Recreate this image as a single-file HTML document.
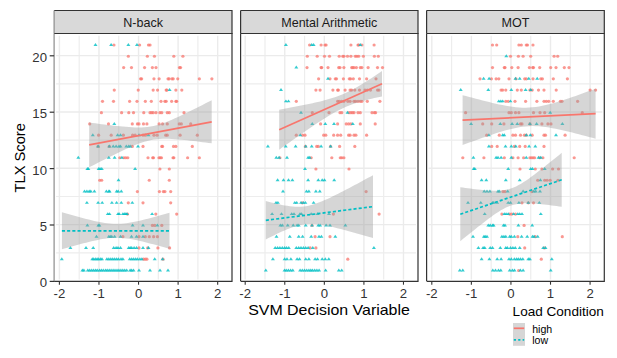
<!DOCTYPE html><html><head><meta charset="utf-8"><style>html,body{margin:0;padding:0;background:#fff;width:617px;height:358px;overflow:hidden;position:relative;font-family:"Liberation Sans",sans-serif}</style></head><body><svg width="617" height="358" viewBox="0 0 617 358" style="position:absolute;left:0;top:0"><rect width="617" height="358" fill="#fff"/><rect x="54.1" y="33.5" width="177.90" height="247.5" fill="#fff"/><line x1="79.19" y1="35.8" x2="79.19" y2="279.5" stroke="#ededed" stroke-width="1.2"/><line x1="118.75" y1="35.8" x2="118.75" y2="279.5" stroke="#ededed" stroke-width="1.2"/><line x1="158.32" y1="35.8" x2="158.32" y2="279.5" stroke="#ededed" stroke-width="1.2"/><line x1="197.90" y1="35.8" x2="197.90" y2="279.5" stroke="#ededed" stroke-width="1.2"/><line x1="56.1" y1="252.82" x2="230.0" y2="252.82" stroke="#ededed" stroke-width="1.2"/><line x1="56.1" y1="196.48" x2="230.0" y2="196.48" stroke="#ededed" stroke-width="1.2"/><line x1="56.1" y1="140.12" x2="230.0" y2="140.12" stroke="#ededed" stroke-width="1.2"/><line x1="56.1" y1="83.78" x2="230.0" y2="83.78" stroke="#ededed" stroke-width="1.2"/><line x1="59.40" y1="35.8" x2="59.40" y2="279.5" stroke="#ebebeb" stroke-width="1.4"/><line x1="98.97" y1="35.8" x2="98.97" y2="279.5" stroke="#ebebeb" stroke-width="1.4"/><line x1="138.54" y1="35.8" x2="138.54" y2="279.5" stroke="#ebebeb" stroke-width="1.4"/><line x1="178.11" y1="35.8" x2="178.11" y2="279.5" stroke="#ebebeb" stroke-width="1.4"/><line x1="217.68" y1="35.8" x2="217.68" y2="279.5" stroke="#ebebeb" stroke-width="1.4"/><line x1="56.1" y1="224.65" x2="230.0" y2="224.65" stroke="#ebebeb" stroke-width="1.4"/><line x1="56.1" y1="168.30" x2="230.0" y2="168.30" stroke="#ebebeb" stroke-width="1.4"/><line x1="56.1" y1="111.95" x2="230.0" y2="111.95" stroke="#ebebeb" stroke-width="1.4"/><line x1="56.1" y1="55.60" x2="230.0" y2="55.60" stroke="#ebebeb" stroke-width="1.4"/><circle cx="113.95" cy="44.98" r="1.6" fill="#F8766D" fill-opacity="0.75"/><circle cx="139.62" cy="44.98" r="1.6" fill="#F8766D" fill-opacity="0.75"/><circle cx="128.35" cy="56.25" r="1.6" fill="#F8766D" fill-opacity="0.75"/><circle cx="123.65" cy="67.53" r="1.6" fill="#F8766D" fill-opacity="0.75"/><circle cx="131.48" cy="67.53" r="1.6" fill="#F8766D" fill-opacity="0.75"/><circle cx="140.56" cy="78.80" r="1.6" fill="#F8766D" fill-opacity="0.75"/><circle cx="141.65" cy="78.80" r="1.6" fill="#F8766D" fill-opacity="0.75"/><circle cx="114.26" cy="90.07" r="1.6" fill="#F8766D" fill-opacity="0.75"/><circle cx="138.21" cy="90.07" r="1.6" fill="#F8766D" fill-opacity="0.75"/><circle cx="148.48" cy="44.98" r="1.6" fill="#F8766D" fill-opacity="0.75"/><circle cx="150.04" cy="44.98" r="1.6" fill="#F8766D" fill-opacity="0.75"/><circle cx="147.38" cy="56.25" r="1.6" fill="#F8766D" fill-opacity="0.75"/><circle cx="154.43" cy="56.25" r="1.6" fill="#F8766D" fill-opacity="0.75"/><circle cx="173.83" cy="56.25" r="1.6" fill="#F8766D" fill-opacity="0.75"/><circle cx="182.91" cy="56.25" r="1.6" fill="#F8766D" fill-opacity="0.75"/><circle cx="144.57" cy="67.53" r="1.6" fill="#F8766D" fill-opacity="0.75"/><circle cx="152.39" cy="67.53" r="1.6" fill="#F8766D" fill-opacity="0.75"/><circle cx="155.99" cy="67.53" r="1.6" fill="#F8766D" fill-opacity="0.75"/><circle cx="179.47" cy="67.53" r="1.6" fill="#F8766D" fill-opacity="0.75"/><circle cx="180.57" cy="67.53" r="1.6" fill="#F8766D" fill-opacity="0.75"/><circle cx="153.96" cy="78.80" r="1.6" fill="#F8766D" fill-opacity="0.75"/><circle cx="159.12" cy="78.80" r="1.6" fill="#F8766D" fill-opacity="0.75"/><circle cx="168.04" cy="78.80" r="1.6" fill="#F8766D" fill-opacity="0.75"/><circle cx="169.14" cy="78.80" r="1.6" fill="#F8766D" fill-opacity="0.75"/><circle cx="171.96" cy="78.80" r="1.6" fill="#F8766D" fill-opacity="0.75"/><circle cx="173.21" cy="78.80" r="1.6" fill="#F8766D" fill-opacity="0.75"/><circle cx="177.75" cy="78.80" r="1.6" fill="#F8766D" fill-opacity="0.75"/><circle cx="199.35" cy="78.80" r="1.6" fill="#F8766D" fill-opacity="0.75"/><circle cx="211.87" cy="78.80" r="1.6" fill="#F8766D" fill-opacity="0.75"/><circle cx="153.17" cy="90.07" r="1.6" fill="#F8766D" fill-opacity="0.75"/><circle cx="157.56" cy="90.07" r="1.6" fill="#F8766D" fill-opacity="0.75"/><circle cx="166.17" cy="90.07" r="1.6" fill="#F8766D" fill-opacity="0.75"/><circle cx="166.95" cy="90.07" r="1.6" fill="#F8766D" fill-opacity="0.75"/><circle cx="175.87" cy="90.07" r="1.6" fill="#F8766D" fill-opacity="0.75"/><circle cx="181.82" cy="90.07" r="1.6" fill="#F8766D" fill-opacity="0.75"/><circle cx="102.5" cy="101.35" r="1.6" fill="#F8766D" fill-opacity="0.75"/><circle cx="113.5" cy="101.35" r="1.6" fill="#F8766D" fill-opacity="0.75"/><circle cx="129.6" cy="101.35" r="1.6" fill="#F8766D" fill-opacity="0.75"/><circle cx="137.0" cy="101.35" r="1.6" fill="#F8766D" fill-opacity="0.75"/><circle cx="101.4" cy="112.63" r="1.6" fill="#F8766D" fill-opacity="0.75"/><circle cx="121.6" cy="112.63" r="1.6" fill="#F8766D" fill-opacity="0.75"/><circle cx="128.8" cy="112.63" r="1.6" fill="#F8766D" fill-opacity="0.75"/><circle cx="133.5" cy="112.63" r="1.6" fill="#F8766D" fill-opacity="0.75"/><circle cx="89.7" cy="123.90" r="1.6" fill="#F8766D" fill-opacity="0.75"/><circle cx="108.5" cy="123.90" r="1.6" fill="#F8766D" fill-opacity="0.75"/><circle cx="132.3" cy="123.90" r="1.6" fill="#F8766D" fill-opacity="0.75"/><circle cx="137.4" cy="123.90" r="1.6" fill="#F8766D" fill-opacity="0.75"/><circle cx="139.0" cy="123.90" r="1.6" fill="#F8766D" fill-opacity="0.75"/><circle cx="98.6" cy="135.17" r="1.6" fill="#F8766D" fill-opacity="0.75"/><circle cx="111.2" cy="135.17" r="1.6" fill="#F8766D" fill-opacity="0.75"/><circle cx="123.4" cy="135.17" r="1.6" fill="#F8766D" fill-opacity="0.75"/><circle cx="132.6" cy="135.17" r="1.6" fill="#F8766D" fill-opacity="0.75"/><circle cx="135.1" cy="135.17" r="1.6" fill="#F8766D" fill-opacity="0.75"/><circle cx="98.1" cy="146.45" r="1.6" fill="#F8766D" fill-opacity="0.75"/><circle cx="109.3" cy="146.45" r="1.6" fill="#F8766D" fill-opacity="0.75"/><circle cx="132.3" cy="146.45" r="1.6" fill="#F8766D" fill-opacity="0.75"/><circle cx="145.35" cy="101.35" r="1.6" fill="#F8766D" fill-opacity="0.75"/><circle cx="151.3" cy="101.35" r="1.6" fill="#F8766D" fill-opacity="0.75"/><circle cx="161.0" cy="101.35" r="1.6" fill="#F8766D" fill-opacity="0.75"/><circle cx="164.91" cy="101.35" r="1.6" fill="#F8766D" fill-opacity="0.75"/><circle cx="166.17" cy="101.35" r="1.6" fill="#F8766D" fill-opacity="0.75"/><circle cx="171.64" cy="101.35" r="1.6" fill="#F8766D" fill-opacity="0.75"/><circle cx="175.87" cy="101.35" r="1.6" fill="#F8766D" fill-opacity="0.75"/><circle cx="176.65" cy="101.35" r="1.6" fill="#F8766D" fill-opacity="0.75"/><circle cx="143.78" cy="112.63" r="1.6" fill="#F8766D" fill-opacity="0.75"/><circle cx="150.04" cy="112.63" r="1.6" fill="#F8766D" fill-opacity="0.75"/><circle cx="151.61" cy="112.63" r="1.6" fill="#F8766D" fill-opacity="0.75"/><circle cx="153.17" cy="112.63" r="1.6" fill="#F8766D" fill-opacity="0.75"/><circle cx="155.99" cy="112.63" r="1.6" fill="#F8766D" fill-opacity="0.75"/><circle cx="159.9" cy="112.63" r="1.6" fill="#F8766D" fill-opacity="0.75"/><circle cx="161.78" cy="112.63" r="1.6" fill="#F8766D" fill-opacity="0.75"/><circle cx="167.26" cy="112.63" r="1.6" fill="#F8766D" fill-opacity="0.75"/><circle cx="169.3" cy="112.63" r="1.6" fill="#F8766D" fill-opacity="0.75"/><circle cx="184.01" cy="112.63" r="1.6" fill="#F8766D" fill-opacity="0.75"/><circle cx="143.47" cy="123.90" r="1.6" fill="#F8766D" fill-opacity="0.75"/><circle cx="146.91" cy="123.90" r="1.6" fill="#F8766D" fill-opacity="0.75"/><circle cx="159.12" cy="123.90" r="1.6" fill="#F8766D" fill-opacity="0.75"/><circle cx="162.57" cy="123.90" r="1.6" fill="#F8766D" fill-opacity="0.75"/><circle cx="167.26" cy="123.90" r="1.6" fill="#F8766D" fill-opacity="0.75"/><circle cx="179.31" cy="123.90" r="1.6" fill="#F8766D" fill-opacity="0.75"/><circle cx="181.35" cy="123.90" r="1.6" fill="#F8766D" fill-opacity="0.75"/><circle cx="190.74" cy="123.90" r="1.6" fill="#F8766D" fill-opacity="0.75"/><circle cx="143.0" cy="135.17" r="1.6" fill="#F8766D" fill-opacity="0.75"/><circle cx="145.35" cy="135.17" r="1.6" fill="#F8766D" fill-opacity="0.75"/><circle cx="153.96" cy="135.17" r="1.6" fill="#F8766D" fill-opacity="0.75"/><circle cx="157.09" cy="135.17" r="1.6" fill="#F8766D" fill-opacity="0.75"/><circle cx="165.7" cy="135.17" r="1.6" fill="#F8766D" fill-opacity="0.75"/><circle cx="167.26" cy="135.17" r="1.6" fill="#F8766D" fill-opacity="0.75"/><circle cx="180.1" cy="135.17" r="1.6" fill="#F8766D" fill-opacity="0.75"/><circle cx="197.31" cy="135.17" r="1.6" fill="#F8766D" fill-opacity="0.75"/><circle cx="143.0" cy="146.45" r="1.6" fill="#F8766D" fill-opacity="0.75"/><circle cx="161.78" cy="146.45" r="1.6" fill="#F8766D" fill-opacity="0.75"/><circle cx="162.57" cy="146.45" r="1.6" fill="#F8766D" fill-opacity="0.75"/><circle cx="173.52" cy="146.45" r="1.6" fill="#F8766D" fill-opacity="0.75"/><circle cx="175.87" cy="146.45" r="1.6" fill="#F8766D" fill-opacity="0.75"/><circle cx="192.3" cy="146.45" r="1.6" fill="#F8766D" fill-opacity="0.75"/><circle cx="119.8" cy="157.73" r="1.6" fill="#F8766D" fill-opacity="0.75"/><circle cx="123.9" cy="157.73" r="1.6" fill="#F8766D" fill-opacity="0.75"/><circle cx="125.8" cy="157.73" r="1.6" fill="#F8766D" fill-opacity="0.75"/><circle cx="127.8" cy="157.73" r="1.6" fill="#F8766D" fill-opacity="0.75"/><circle cx="99.7" cy="180.27" r="1.6" fill="#F8766D" fill-opacity="0.75"/><circle cx="101.7" cy="180.27" r="1.6" fill="#F8766D" fill-opacity="0.75"/><circle cx="137.4" cy="191.55" r="1.6" fill="#F8766D" fill-opacity="0.75"/><circle cx="128.3" cy="202.83" r="1.6" fill="#F8766D" fill-opacity="0.75"/><circle cx="143.0" cy="202.83" r="1.6" fill="#F8766D" fill-opacity="0.75"/><circle cx="148.01" cy="157.73" r="1.6" fill="#F8766D" fill-opacity="0.75"/><circle cx="152.7" cy="157.73" r="1.6" fill="#F8766D" fill-opacity="0.75"/><circle cx="153.49" cy="157.73" r="1.6" fill="#F8766D" fill-opacity="0.75"/><circle cx="158.97" cy="157.73" r="1.6" fill="#F8766D" fill-opacity="0.75"/><circle cx="160.22" cy="157.73" r="1.6" fill="#F8766D" fill-opacity="0.75"/><circle cx="161.47" cy="157.73" r="1.6" fill="#F8766D" fill-opacity="0.75"/><circle cx="173.05" cy="157.73" r="1.6" fill="#F8766D" fill-opacity="0.75"/><circle cx="173.83" cy="157.73" r="1.6" fill="#F8766D" fill-opacity="0.75"/><circle cx="187.61" cy="157.73" r="1.6" fill="#F8766D" fill-opacity="0.75"/><circle cx="199.35" cy="157.73" r="1.6" fill="#F8766D" fill-opacity="0.75"/><circle cx="159.9" cy="169.00" r="1.6" fill="#F8766D" fill-opacity="0.75"/><circle cx="169.3" cy="169.00" r="1.6" fill="#F8766D" fill-opacity="0.75"/><circle cx="149.26" cy="180.27" r="1.6" fill="#F8766D" fill-opacity="0.75"/><circle cx="169.3" cy="180.27" r="1.6" fill="#F8766D" fill-opacity="0.75"/><circle cx="159.43" cy="191.55" r="1.6" fill="#F8766D" fill-opacity="0.75"/><circle cx="163.35" cy="191.55" r="1.6" fill="#F8766D" fill-opacity="0.75"/><circle cx="164.91" cy="191.55" r="1.6" fill="#F8766D" fill-opacity="0.75"/><circle cx="170.7" cy="191.55" r="1.6" fill="#F8766D" fill-opacity="0.75"/><circle cx="170.7" cy="202.83" r="1.6" fill="#F8766D" fill-opacity="0.75"/><circle cx="127.5" cy="214.10" r="1.6" fill="#F8766D" fill-opacity="0.75"/><circle cx="155.8" cy="214.10" r="1.6" fill="#F8766D" fill-opacity="0.75"/><circle cx="176.7" cy="214.10" r="1.6" fill="#F8766D" fill-opacity="0.75"/><circle cx="152.4" cy="225.38" r="1.6" fill="#F8766D" fill-opacity="0.75"/><circle cx="154.7" cy="225.38" r="1.6" fill="#F8766D" fill-opacity="0.75"/><circle cx="161.8" cy="225.38" r="1.6" fill="#F8766D" fill-opacity="0.75"/><circle cx="122.9" cy="236.65" r="1.6" fill="#F8766D" fill-opacity="0.75"/><circle cx="139.0" cy="236.65" r="1.6" fill="#F8766D" fill-opacity="0.75"/><circle cx="145.3" cy="236.65" r="1.6" fill="#F8766D" fill-opacity="0.75"/><circle cx="149.3" cy="236.65" r="1.6" fill="#F8766D" fill-opacity="0.75"/><circle cx="153.6" cy="236.65" r="1.6" fill="#F8766D" fill-opacity="0.75"/><circle cx="157.4" cy="236.65" r="1.6" fill="#F8766D" fill-opacity="0.75"/><circle cx="139.0" cy="247.93" r="1.6" fill="#F8766D" fill-opacity="0.75"/><circle cx="147.7" cy="247.93" r="1.6" fill="#F8766D" fill-opacity="0.75"/><circle cx="157.9" cy="247.93" r="1.6" fill="#F8766D" fill-opacity="0.75"/><circle cx="169.6" cy="247.93" r="1.6" fill="#F8766D" fill-opacity="0.75"/><circle cx="143.5" cy="259.20" r="1.6" fill="#F8766D" fill-opacity="0.75"/><circle cx="145.3" cy="259.20" r="1.6" fill="#F8766D" fill-opacity="0.75"/><circle cx="146.9" cy="259.20" r="1.6" fill="#F8766D" fill-opacity="0.75"/><circle cx="163.0" cy="259.20" r="1.6" fill="#F8766D" fill-opacity="0.75"/><path d="M93.48,45.98L97.48,45.98L95.48,43.03Z" fill="#00BFC4" fill-opacity="0.8"/><path d="M109.13,45.98L113.13,45.98L111.13,43.03Z" fill="#00BFC4" fill-opacity="0.8"/><path d="M126.35,45.98L130.35,45.98L128.35,43.03Z" fill="#00BFC4" fill-opacity="0.8"/><path d="M134.96,45.98L138.96,45.98L136.96,43.03Z" fill="#00BFC4" fill-opacity="0.8"/><path d="M167.61,91.07L171.61,91.07L169.61,88.12Z" fill="#00BFC4" fill-opacity="0.8"/><path d="M112.30,124.90L116.30,124.90L114.30,121.95Z" fill="#00BFC4" fill-opacity="0.8"/><path d="M90.80,136.17L94.80,136.17L92.80,133.22Z" fill="#00BFC4" fill-opacity="0.8"/><path d="M115.60,136.17L119.60,136.17L117.60,133.22Z" fill="#00BFC4" fill-opacity="0.8"/><path d="M118.50,136.17L122.50,136.17L120.50,133.22Z" fill="#00BFC4" fill-opacity="0.8"/><path d="M137.00,136.17L141.00,136.17L139.00,133.22Z" fill="#00BFC4" fill-opacity="0.8"/><path d="M96.10,147.45L100.10,147.45L98.10,144.50Z" fill="#00BFC4" fill-opacity="0.8"/><path d="M107.30,147.45L111.30,147.45L109.30,144.50Z" fill="#00BFC4" fill-opacity="0.8"/><path d="M111.20,147.45L115.20,147.45L113.20,144.50Z" fill="#00BFC4" fill-opacity="0.8"/><path d="M114.10,147.45L118.10,147.45L116.10,144.50Z" fill="#00BFC4" fill-opacity="0.8"/><path d="M117.00,147.45L121.00,147.45L119.00,144.50Z" fill="#00BFC4" fill-opacity="0.8"/><path d="M118.50,147.45L122.50,147.45L120.50,144.50Z" fill="#00BFC4" fill-opacity="0.8"/><path d="M124.30,147.45L128.30,147.45L126.30,144.50Z" fill="#00BFC4" fill-opacity="0.8"/><path d="M126.70,147.45L130.70,147.45L128.70,144.50Z" fill="#00BFC4" fill-opacity="0.8"/><path d="M128.20,147.45L132.20,147.45L130.20,144.50Z" fill="#00BFC4" fill-opacity="0.8"/><path d="M136.00,147.45L140.00,147.45L138.00,144.50Z" fill="#00BFC4" fill-opacity="0.8"/><path d="M146.48,136.17L150.48,136.17L148.48,133.22Z" fill="#00BFC4" fill-opacity="0.8"/><path d="M76.30,158.73L80.30,158.73L78.30,155.78Z" fill="#00BFC4" fill-opacity="0.8"/><path d="M106.80,158.73L110.80,158.73L108.80,155.78Z" fill="#00BFC4" fill-opacity="0.8"/><path d="M112.60,158.73L116.60,158.73L114.60,155.78Z" fill="#00BFC4" fill-opacity="0.8"/><path d="M119.90,158.73L123.90,158.73L121.90,155.78Z" fill="#00BFC4" fill-opacity="0.8"/><path d="M85.40,170.00L89.40,170.00L87.40,167.05Z" fill="#00BFC4" fill-opacity="0.8"/><path d="M86.40,170.00L90.40,170.00L88.40,167.05Z" fill="#00BFC4" fill-opacity="0.8"/><path d="M96.60,170.00L100.60,170.00L98.60,167.05Z" fill="#00BFC4" fill-opacity="0.8"/><path d="M98.00,170.00L102.00,170.00L100.00,167.05Z" fill="#00BFC4" fill-opacity="0.8"/><path d="M99.80,170.00L103.80,170.00L101.80,167.05Z" fill="#00BFC4" fill-opacity="0.8"/><path d="M133.10,170.00L137.10,170.00L135.10,167.05Z" fill="#00BFC4" fill-opacity="0.8"/><path d="M116.50,181.27L120.50,181.27L118.50,178.32Z" fill="#00BFC4" fill-opacity="0.8"/><path d="M82.50,192.55L86.50,192.55L84.50,189.60Z" fill="#00BFC4" fill-opacity="0.8"/><path d="M84.90,192.55L88.90,192.55L86.90,189.60Z" fill="#00BFC4" fill-opacity="0.8"/><path d="M87.20,192.55L91.20,192.55L89.20,189.60Z" fill="#00BFC4" fill-opacity="0.8"/><path d="M88.80,192.55L92.80,192.55L90.80,189.60Z" fill="#00BFC4" fill-opacity="0.8"/><path d="M92.40,192.55L96.40,192.55L94.40,189.60Z" fill="#00BFC4" fill-opacity="0.8"/><path d="M104.40,192.55L108.40,192.55L106.40,189.60Z" fill="#00BFC4" fill-opacity="0.8"/><path d="M106.80,192.55L110.80,192.55L108.80,189.60Z" fill="#00BFC4" fill-opacity="0.8"/><path d="M107.60,192.55L111.60,192.55L109.60,189.60Z" fill="#00BFC4" fill-opacity="0.8"/><path d="M114.60,192.55L118.60,192.55L116.60,189.60Z" fill="#00BFC4" fill-opacity="0.8"/><path d="M116.20,192.55L120.20,192.55L118.20,189.60Z" fill="#00BFC4" fill-opacity="0.8"/><path d="M119.30,192.55L123.30,192.55L121.30,189.60Z" fill="#00BFC4" fill-opacity="0.8"/><path d="M84.90,203.83L88.90,203.83L86.90,200.88Z" fill="#00BFC4" fill-opacity="0.8"/><path d="M96.10,203.83L100.10,203.83L98.10,200.88Z" fill="#00BFC4" fill-opacity="0.8"/><path d="M100.20,203.83L104.20,203.83L102.20,200.88Z" fill="#00BFC4" fill-opacity="0.8"/><path d="M109.90,203.83L113.90,203.83L111.90,200.88Z" fill="#00BFC4" fill-opacity="0.8"/><path d="M114.60,203.83L118.60,203.83L116.60,200.88Z" fill="#00BFC4" fill-opacity="0.8"/><path d="M119.30,203.83L123.30,203.83L121.30,200.88Z" fill="#00BFC4" fill-opacity="0.8"/><path d="M130.30,203.83L134.30,203.83L132.30,200.88Z" fill="#00BFC4" fill-opacity="0.8"/><path d="M105.80,215.10L109.80,215.10L107.80,212.15Z" fill="#00BFC4" fill-opacity="0.8"/><path d="M107.50,215.10L111.50,215.10L109.50,212.15Z" fill="#00BFC4" fill-opacity="0.8"/><path d="M116.00,215.10L120.00,215.10L118.00,212.15Z" fill="#00BFC4" fill-opacity="0.8"/><path d="M117.20,215.10L121.20,215.10L119.20,212.15Z" fill="#00BFC4" fill-opacity="0.8"/><path d="M120.90,215.10L124.90,215.10L122.90,212.15Z" fill="#00BFC4" fill-opacity="0.8"/><path d="M122.40,215.10L126.40,215.10L124.40,212.15Z" fill="#00BFC4" fill-opacity="0.8"/><path d="M123.80,215.10L127.80,215.10L125.80,212.15Z" fill="#00BFC4" fill-opacity="0.8"/><path d="M125.00,215.10L129.00,215.10L127.00,212.15Z" fill="#00BFC4" fill-opacity="0.8"/><path d="M150.10,215.10L154.10,215.10L152.10,212.15Z" fill="#00BFC4" fill-opacity="0.8"/><path d="M85.40,226.38L89.40,226.38L87.40,223.43Z" fill="#00BFC4" fill-opacity="0.8"/><path d="M96.40,226.38L100.40,226.38L98.40,223.43Z" fill="#00BFC4" fill-opacity="0.8"/><path d="M97.40,226.38L101.40,226.38L99.40,223.43Z" fill="#00BFC4" fill-opacity="0.8"/><path d="M130.60,226.38L134.60,226.38L132.60,223.43Z" fill="#00BFC4" fill-opacity="0.8"/><path d="M141.00,226.38L145.00,226.38L143.00,223.43Z" fill="#00BFC4" fill-opacity="0.8"/><path d="M155.40,226.38L159.40,226.38L157.40,223.43Z" fill="#00BFC4" fill-opacity="0.8"/><path d="M94.50,237.65L98.50,237.65L96.50,234.70Z" fill="#00BFC4" fill-opacity="0.8"/><path d="M106.80,237.65L110.80,237.65L108.80,234.70Z" fill="#00BFC4" fill-opacity="0.8"/><path d="M108.30,237.65L112.30,237.65L110.30,234.70Z" fill="#00BFC4" fill-opacity="0.8"/><path d="M109.70,237.65L113.70,237.65L111.70,234.70Z" fill="#00BFC4" fill-opacity="0.8"/><path d="M112.60,237.65L116.60,237.65L114.60,234.70Z" fill="#00BFC4" fill-opacity="0.8"/><path d="M118.50,237.65L122.50,237.65L120.50,234.70Z" fill="#00BFC4" fill-opacity="0.8"/><path d="M129.50,237.65L133.50,237.65L131.50,234.70Z" fill="#00BFC4" fill-opacity="0.8"/><path d="M134.50,237.65L138.50,237.65L136.50,234.70Z" fill="#00BFC4" fill-opacity="0.8"/><path d="M141.00,237.65L145.00,237.65L143.00,234.70Z" fill="#00BFC4" fill-opacity="0.8"/><path d="M68.40,248.93L72.40,248.93L70.40,245.98Z" fill="#00BFC4" fill-opacity="0.8"/><path d="M84.00,248.93L88.00,248.93L86.00,245.98Z" fill="#00BFC4" fill-opacity="0.8"/><path d="M91.20,248.93L95.20,248.93L93.20,245.98Z" fill="#00BFC4" fill-opacity="0.8"/><path d="M111.70,248.93L115.70,248.93L113.70,245.98Z" fill="#00BFC4" fill-opacity="0.8"/><path d="M114.10,248.93L118.10,248.93L116.10,245.98Z" fill="#00BFC4" fill-opacity="0.8"/><path d="M116.00,248.93L120.00,248.93L118.00,245.98Z" fill="#00BFC4" fill-opacity="0.8"/><path d="M118.50,248.93L122.50,248.93L120.50,245.98Z" fill="#00BFC4" fill-opacity="0.8"/><path d="M126.70,248.93L130.70,248.93L128.70,245.98Z" fill="#00BFC4" fill-opacity="0.8"/><path d="M128.20,248.93L132.20,248.93L130.20,245.98Z" fill="#00BFC4" fill-opacity="0.8"/><path d="M129.70,248.93L133.70,248.93L131.70,245.98Z" fill="#00BFC4" fill-opacity="0.8"/><path d="M132.10,248.93L136.10,248.93L134.10,245.98Z" fill="#00BFC4" fill-opacity="0.8"/><path d="M134.50,248.93L138.50,248.93L136.50,245.98Z" fill="#00BFC4" fill-opacity="0.8"/><path d="M141.00,248.93L145.00,248.93L143.00,245.98Z" fill="#00BFC4" fill-opacity="0.8"/><path d="M146.50,248.93L150.50,248.93L148.50,245.98Z" fill="#00BFC4" fill-opacity="0.8"/><path d="M59.80,260.20L63.80,260.20L61.80,257.25Z" fill="#00BFC4" fill-opacity="0.8"/><path d="M90.30,260.20L94.30,260.20L92.30,257.25Z" fill="#00BFC4" fill-opacity="0.8"/><path d="M91.70,260.20L95.70,260.20L93.70,257.25Z" fill="#00BFC4" fill-opacity="0.8"/><path d="M93.50,260.20L97.50,260.20L95.50,257.25Z" fill="#00BFC4" fill-opacity="0.8"/><path d="M95.10,260.20L99.10,260.20L97.10,257.25Z" fill="#00BFC4" fill-opacity="0.8"/><path d="M96.60,260.20L100.60,260.20L98.60,257.25Z" fill="#00BFC4" fill-opacity="0.8"/><path d="M98.50,260.20L102.50,260.20L100.50,257.25Z" fill="#00BFC4" fill-opacity="0.8"/><path d="M100.00,260.20L104.00,260.20L102.00,257.25Z" fill="#00BFC4" fill-opacity="0.8"/><path d="M104.90,260.20L108.90,260.20L106.90,257.25Z" fill="#00BFC4" fill-opacity="0.8"/><path d="M106.80,260.20L110.80,260.20L108.80,257.25Z" fill="#00BFC4" fill-opacity="0.8"/><path d="M108.80,260.20L112.80,260.20L110.80,257.25Z" fill="#00BFC4" fill-opacity="0.8"/><path d="M110.70,260.20L114.70,260.20L112.70,257.25Z" fill="#00BFC4" fill-opacity="0.8"/><path d="M112.60,260.20L116.60,260.20L114.60,257.25Z" fill="#00BFC4" fill-opacity="0.8"/><path d="M114.60,260.20L118.60,260.20L116.60,257.25Z" fill="#00BFC4" fill-opacity="0.8"/><path d="M116.50,260.20L120.50,260.20L118.50,257.25Z" fill="#00BFC4" fill-opacity="0.8"/><path d="M119.00,260.20L123.00,260.20L121.00,257.25Z" fill="#00BFC4" fill-opacity="0.8"/><path d="M120.90,260.20L124.90,260.20L122.90,257.25Z" fill="#00BFC4" fill-opacity="0.8"/><path d="M127.70,260.20L131.70,260.20L129.70,257.25Z" fill="#00BFC4" fill-opacity="0.8"/><path d="M129.70,260.20L133.70,260.20L131.70,257.25Z" fill="#00BFC4" fill-opacity="0.8"/><path d="M131.60,260.20L135.60,260.20L133.60,257.25Z" fill="#00BFC4" fill-opacity="0.8"/><path d="M133.60,260.20L137.60,260.20L135.60,257.25Z" fill="#00BFC4" fill-opacity="0.8"/><path d="M135.50,260.20L139.50,260.20L137.50,257.25Z" fill="#00BFC4" fill-opacity="0.8"/><path d="M137.90,260.20L141.90,260.20L139.90,257.25Z" fill="#00BFC4" fill-opacity="0.8"/><path d="M139.90,260.20L143.90,260.20L141.90,257.25Z" fill="#00BFC4" fill-opacity="0.8"/><path d="M152.70,260.20L156.70,260.20L154.70,257.25Z" fill="#00BFC4" fill-opacity="0.8"/><path d="M160.60,260.20L164.60,260.20L162.60,257.25Z" fill="#00BFC4" fill-opacity="0.8"/><path d="M80.40,271.48L84.40,271.48L82.40,268.53Z" fill="#00BFC4" fill-opacity="0.8"/><path d="M81.90,271.48L85.90,271.48L83.90,268.53Z" fill="#00BFC4" fill-opacity="0.8"/><path d="M85.80,271.48L89.80,271.48L87.80,268.53Z" fill="#00BFC4" fill-opacity="0.8"/><path d="M87.70,271.48L91.70,271.48L89.70,268.53Z" fill="#00BFC4" fill-opacity="0.8"/><path d="M89.70,271.48L93.70,271.48L91.70,268.53Z" fill="#00BFC4" fill-opacity="0.8"/><path d="M91.60,271.48L95.60,271.48L93.60,268.53Z" fill="#00BFC4" fill-opacity="0.8"/><path d="M93.60,271.48L97.60,271.48L95.60,268.53Z" fill="#00BFC4" fill-opacity="0.8"/><path d="M95.30,271.48L99.30,271.48L97.30,268.53Z" fill="#00BFC4" fill-opacity="0.8"/><path d="M97.50,271.48L101.50,271.48L99.50,268.53Z" fill="#00BFC4" fill-opacity="0.8"/><path d="M99.40,271.48L103.40,271.48L101.40,268.53Z" fill="#00BFC4" fill-opacity="0.8"/><path d="M101.30,271.48L105.30,271.48L103.30,268.53Z" fill="#00BFC4" fill-opacity="0.8"/><path d="M103.50,271.48L107.50,271.48L105.50,268.53Z" fill="#00BFC4" fill-opacity="0.8"/><path d="M105.20,271.48L109.20,271.48L107.20,268.53Z" fill="#00BFC4" fill-opacity="0.8"/><path d="M107.20,271.48L111.20,271.48L109.20,268.53Z" fill="#00BFC4" fill-opacity="0.8"/><path d="M109.10,271.48L113.10,271.48L111.10,268.53Z" fill="#00BFC4" fill-opacity="0.8"/><path d="M111.10,271.48L115.10,271.48L113.10,268.53Z" fill="#00BFC4" fill-opacity="0.8"/><path d="M113.00,271.48L117.00,271.48L115.00,268.53Z" fill="#00BFC4" fill-opacity="0.8"/><path d="M115.00,271.48L119.00,271.48L117.00,268.53Z" fill="#00BFC4" fill-opacity="0.8"/><path d="M116.90,271.48L120.90,271.48L118.90,268.53Z" fill="#00BFC4" fill-opacity="0.8"/><path d="M118.90,271.48L122.90,271.48L120.90,268.53Z" fill="#00BFC4" fill-opacity="0.8"/><path d="M120.80,271.48L124.80,271.48L122.80,268.53Z" fill="#00BFC4" fill-opacity="0.8"/><path d="M122.70,271.48L126.70,271.48L124.70,268.53Z" fill="#00BFC4" fill-opacity="0.8"/><path d="M124.70,271.48L128.70,271.48L126.70,268.53Z" fill="#00BFC4" fill-opacity="0.8"/><path d="M128.10,271.48L132.10,271.48L130.10,268.53Z" fill="#00BFC4" fill-opacity="0.8"/><path d="M129.60,271.48L133.60,271.48L131.60,268.53Z" fill="#00BFC4" fill-opacity="0.8"/><path d="M131.50,271.48L135.50,271.48L133.50,268.53Z" fill="#00BFC4" fill-opacity="0.8"/><path d="M137.00,271.48L141.00,271.48L139.00,268.53Z" fill="#00BFC4" fill-opacity="0.8"/><path d="M148.00,271.48L152.00,271.48L150.00,268.53Z" fill="#00BFC4" fill-opacity="0.8"/><path d="M158.00,271.48L162.00,271.48L160.00,268.53Z" fill="#00BFC4" fill-opacity="0.8"/><path d="M166.00,271.48L170.00,271.48L168.00,268.53Z" fill="#00BFC4" fill-opacity="0.8"/><path d="M89.20,122.53 L92.26,122.94 L95.33,123.35 L98.39,123.76 L101.45,124.15 L104.51,124.54 L107.58,124.92 L110.64,125.29 L113.70,125.65 L116.76,125.98 L119.82,126.30 L122.89,126.60 L125.95,126.86 L129.01,127.09 L132.07,127.27 L135.14,127.40 L138.20,127.45 L141.26,127.41 L144.32,127.25 L147.39,126.97 L150.45,126.54 L153.51,125.94 L156.57,125.19 L159.64,124.30 L162.70,123.27 L165.76,122.14 L168.82,120.92 L171.89,119.63 L174.95,118.29 L178.01,116.89 L181.07,115.47 L184.14,114.01 L187.20,112.54 L190.26,111.04 L193.32,109.53 L196.39,108.00 L199.45,106.46 L202.51,104.92 L205.57,103.37 L208.64,101.81 L211.70,100.24 L211.70,143.36 L208.64,142.95 L205.57,142.54 L202.51,142.15 L199.45,141.76 L196.39,141.37 L193.32,141.00 L190.26,140.65 L187.20,140.30 L184.14,139.98 L181.07,139.68 L178.01,139.41 L174.95,139.17 L171.89,138.98 L168.82,138.85 L165.76,138.78 L162.70,138.81 L159.64,138.94 L156.57,139.20 L153.51,139.60 L150.45,140.16 L147.39,140.88 L144.32,141.76 L141.26,142.76 L138.20,143.87 L135.14,145.08 L132.07,146.36 L129.01,147.69 L125.95,149.08 L122.89,150.50 L119.82,151.95 L116.76,153.42 L113.70,154.91 L110.64,156.42 L107.58,157.95 L104.51,159.48 L101.45,161.03 L98.39,162.58 L95.33,164.14 L92.26,165.70 L89.20,167.27Z" fill="#999" fill-opacity="0.4"/><path d="M61.90,212.23 L64.59,213.01 L67.28,213.79 L69.97,214.56 L72.66,215.32 L75.35,216.07 L78.04,216.81 L80.73,217.54 L83.42,218.25 L86.11,218.94 L88.80,219.61 L91.49,220.26 L94.18,220.88 L96.87,221.46 L99.56,222.00 L102.25,222.48 L104.94,222.91 L107.63,223.26 L110.32,223.53 L113.01,223.71 L115.70,223.80 L118.39,223.77 L121.08,223.65 L123.77,223.43 L126.46,223.13 L129.15,222.75 L131.84,222.29 L134.53,221.79 L137.22,221.23 L139.91,220.63 L142.60,220.00 L145.29,219.34 L147.98,218.66 L150.67,217.96 L153.36,217.24 L156.05,216.51 L158.74,215.77 L161.43,215.01 L164.12,214.25 L166.81,213.48 L169.50,212.70 L169.50,248.90 L166.81,248.12 L164.12,247.35 L161.43,246.59 L158.74,245.83 L156.05,245.09 L153.36,244.36 L150.67,243.64 L147.98,242.94 L145.29,242.26 L142.60,241.60 L139.91,240.97 L137.22,240.37 L134.53,239.81 L131.84,239.31 L129.15,238.85 L126.46,238.47 L123.77,238.17 L121.08,237.95 L118.39,237.83 L115.70,237.80 L113.01,237.89 L110.32,238.07 L107.63,238.34 L104.94,238.69 L102.25,239.12 L99.56,239.60 L96.87,240.14 L94.18,240.72 L91.49,241.34 L88.80,241.99 L86.11,242.66 L83.42,243.35 L80.73,244.06 L78.04,244.79 L75.35,245.53 L72.66,246.28 L69.97,247.04 L67.28,247.81 L64.59,248.59 L61.90,249.37Z" fill="#999" fill-opacity="0.4"/><line x1="89.2" y1="144.9" x2="211.7" y2="121.8" stroke="#F8766D" stroke-width="1.7"/><line x1="61.9" y1="230.8" x2="169.5" y2="230.8" stroke="#00BFC4" stroke-width="1.7" stroke-dasharray="3.1 2.1"/><path d="M54.1,33.5 H232.0 V281.4 H54.1" fill="none" stroke="#333" stroke-width="1.2"/><line x1="54.1" y1="33.5" x2="54.1" y2="281" stroke="#8c8c8c" stroke-width="1.2"/><rect x="54.1" y="10.5" width="177.90" height="23.0" fill="#d9d9d9"/><path d="M54.1,10.5 H232.0 V33.5 H54.1" fill="none" stroke="#333" stroke-width="1.2"/><line x1="54.1" y1="10.5" x2="54.1" y2="33.5" stroke="#8c8c8c" stroke-width="1.2"/><text transform="translate(143.05,26.60) scale(1.055,1)" font-family="Liberation Sans, sans-serif" font-size="11.9" fill="#1a1a1a" text-anchor="middle">N-back</text><line x1="59.40" y1="281.4" x2="59.40" y2="284.7" stroke="#333" stroke-width="1.1"/><text transform="translate(59.40,297.60) scale(1.08,1)" font-family="Liberation Sans, sans-serif" font-size="12.2" fill="#333" text-anchor="middle">-2</text><line x1="98.97" y1="281.4" x2="98.97" y2="284.7" stroke="#333" stroke-width="1.1"/><text transform="translate(98.97,297.60) scale(1.08,1)" font-family="Liberation Sans, sans-serif" font-size="12.2" fill="#333" text-anchor="middle">-1</text><line x1="138.54" y1="281.4" x2="138.54" y2="284.7" stroke="#333" stroke-width="1.1"/><text transform="translate(138.54,297.60) scale(1.08,1)" font-family="Liberation Sans, sans-serif" font-size="12.2" fill="#333" text-anchor="middle">0</text><line x1="178.11" y1="281.4" x2="178.11" y2="284.7" stroke="#333" stroke-width="1.1"/><text transform="translate(178.11,297.60) scale(1.08,1)" font-family="Liberation Sans, sans-serif" font-size="12.2" fill="#333" text-anchor="middle">1</text><line x1="217.68" y1="281.4" x2="217.68" y2="284.7" stroke="#333" stroke-width="1.1"/><text transform="translate(217.68,297.60) scale(1.08,1)" font-family="Liberation Sans, sans-serif" font-size="12.2" fill="#333" text-anchor="middle">2</text><rect x="240.6" y="33.5" width="177.40" height="247.5" fill="#fff"/><line x1="264.99" y1="35.8" x2="264.99" y2="279.5" stroke="#ededed" stroke-width="1.2"/><line x1="304.56" y1="35.8" x2="304.56" y2="279.5" stroke="#ededed" stroke-width="1.2"/><line x1="344.12" y1="35.8" x2="344.12" y2="279.5" stroke="#ededed" stroke-width="1.2"/><line x1="383.69" y1="35.8" x2="383.69" y2="279.5" stroke="#ededed" stroke-width="1.2"/><line x1="242.6" y1="252.82" x2="416.0" y2="252.82" stroke="#ededed" stroke-width="1.2"/><line x1="242.6" y1="196.48" x2="416.0" y2="196.48" stroke="#ededed" stroke-width="1.2"/><line x1="242.6" y1="140.12" x2="416.0" y2="140.12" stroke="#ededed" stroke-width="1.2"/><line x1="242.6" y1="83.78" x2="416.0" y2="83.78" stroke="#ededed" stroke-width="1.2"/><line x1="245.20" y1="35.8" x2="245.20" y2="279.5" stroke="#ebebeb" stroke-width="1.4"/><line x1="284.77" y1="35.8" x2="284.77" y2="279.5" stroke="#ebebeb" stroke-width="1.4"/><line x1="324.34" y1="35.8" x2="324.34" y2="279.5" stroke="#ebebeb" stroke-width="1.4"/><line x1="363.91" y1="35.8" x2="363.91" y2="279.5" stroke="#ebebeb" stroke-width="1.4"/><line x1="403.48" y1="35.8" x2="403.48" y2="279.5" stroke="#ebebeb" stroke-width="1.4"/><line x1="242.6" y1="224.65" x2="416.0" y2="224.65" stroke="#ebebeb" stroke-width="1.4"/><line x1="242.6" y1="168.30" x2="416.0" y2="168.30" stroke="#ebebeb" stroke-width="1.4"/><line x1="242.6" y1="111.95" x2="416.0" y2="111.95" stroke="#ebebeb" stroke-width="1.4"/><line x1="242.6" y1="55.60" x2="416.0" y2="55.60" stroke="#ebebeb" stroke-width="1.4"/><circle cx="309.6" cy="44.98" r="1.6" fill="#F8766D" fill-opacity="0.75"/><circle cx="321.1" cy="44.98" r="1.6" fill="#F8766D" fill-opacity="0.75"/><circle cx="325.0" cy="44.98" r="1.6" fill="#F8766D" fill-opacity="0.75"/><circle cx="326.1" cy="44.98" r="1.6" fill="#F8766D" fill-opacity="0.75"/><circle cx="350.9" cy="44.98" r="1.6" fill="#F8766D" fill-opacity="0.75"/><circle cx="358.0" cy="44.98" r="1.6" fill="#F8766D" fill-opacity="0.75"/><circle cx="358.7" cy="44.98" r="1.6" fill="#F8766D" fill-opacity="0.75"/><circle cx="361.9" cy="44.98" r="1.6" fill="#F8766D" fill-opacity="0.75"/><circle cx="374.1" cy="44.98" r="1.6" fill="#F8766D" fill-opacity="0.75"/><circle cx="307.3" cy="56.25" r="1.6" fill="#F8766D" fill-opacity="0.75"/><circle cx="317.2" cy="56.25" r="1.6" fill="#F8766D" fill-opacity="0.75"/><circle cx="324.5" cy="56.25" r="1.6" fill="#F8766D" fill-opacity="0.75"/><circle cx="329.5" cy="56.25" r="1.6" fill="#F8766D" fill-opacity="0.75"/><circle cx="339.2" cy="56.25" r="1.6" fill="#F8766D" fill-opacity="0.75"/><circle cx="342.8" cy="56.25" r="1.6" fill="#F8766D" fill-opacity="0.75"/><circle cx="343.9" cy="56.25" r="1.6" fill="#F8766D" fill-opacity="0.75"/><circle cx="347.5" cy="56.25" r="1.6" fill="#F8766D" fill-opacity="0.75"/><circle cx="350.9" cy="56.25" r="1.6" fill="#F8766D" fill-opacity="0.75"/><circle cx="355.3" cy="56.25" r="1.6" fill="#F8766D" fill-opacity="0.75"/><circle cx="356.9" cy="56.25" r="1.6" fill="#F8766D" fill-opacity="0.75"/><circle cx="358.7" cy="56.25" r="1.6" fill="#F8766D" fill-opacity="0.75"/><circle cx="363.4" cy="56.25" r="1.6" fill="#F8766D" fill-opacity="0.75"/><circle cx="374.4" cy="56.25" r="1.6" fill="#F8766D" fill-opacity="0.75"/><circle cx="378.3" cy="56.25" r="1.6" fill="#F8766D" fill-opacity="0.75"/><circle cx="307.0" cy="67.53" r="1.6" fill="#F8766D" fill-opacity="0.75"/><circle cx="321.1" cy="67.53" r="1.6" fill="#F8766D" fill-opacity="0.75"/><circle cx="321.7" cy="67.53" r="1.6" fill="#F8766D" fill-opacity="0.75"/><circle cx="328.0" cy="67.53" r="1.6" fill="#F8766D" fill-opacity="0.75"/><circle cx="338.7" cy="67.53" r="1.6" fill="#F8766D" fill-opacity="0.75"/><circle cx="340.0" cy="67.53" r="1.6" fill="#F8766D" fill-opacity="0.75"/><circle cx="343.9" cy="67.53" r="1.6" fill="#F8766D" fill-opacity="0.75"/><circle cx="351.7" cy="67.53" r="1.6" fill="#F8766D" fill-opacity="0.75"/><circle cx="352.8" cy="67.53" r="1.6" fill="#F8766D" fill-opacity="0.75"/><circle cx="354.0" cy="67.53" r="1.6" fill="#F8766D" fill-opacity="0.75"/><circle cx="356.4" cy="67.53" r="1.6" fill="#F8766D" fill-opacity="0.75"/><circle cx="360.3" cy="67.53" r="1.6" fill="#F8766D" fill-opacity="0.75"/><circle cx="361.9" cy="67.53" r="1.6" fill="#F8766D" fill-opacity="0.75"/><circle cx="368.1" cy="67.53" r="1.6" fill="#F8766D" fill-opacity="0.75"/><circle cx="377.5" cy="67.53" r="1.6" fill="#F8766D" fill-opacity="0.75"/><circle cx="382.5" cy="67.53" r="1.6" fill="#F8766D" fill-opacity="0.75"/><circle cx="318.6" cy="78.80" r="1.6" fill="#F8766D" fill-opacity="0.75"/><circle cx="330.0" cy="78.80" r="1.6" fill="#F8766D" fill-opacity="0.75"/><circle cx="335.3" cy="78.80" r="1.6" fill="#F8766D" fill-opacity="0.75"/><circle cx="336.5" cy="78.80" r="1.6" fill="#F8766D" fill-opacity="0.75"/><circle cx="343.4" cy="78.80" r="1.6" fill="#F8766D" fill-opacity="0.75"/><circle cx="349.3" cy="78.80" r="1.6" fill="#F8766D" fill-opacity="0.75"/><circle cx="350.6" cy="78.80" r="1.6" fill="#F8766D" fill-opacity="0.75"/><circle cx="353.3" cy="78.80" r="1.6" fill="#F8766D" fill-opacity="0.75"/><circle cx="359.5" cy="78.80" r="1.6" fill="#F8766D" fill-opacity="0.75"/><circle cx="366.6" cy="78.80" r="1.6" fill="#F8766D" fill-opacity="0.75"/><circle cx="376.0" cy="78.80" r="1.6" fill="#F8766D" fill-opacity="0.75"/><circle cx="315.9" cy="90.07" r="1.6" fill="#F8766D" fill-opacity="0.75"/><circle cx="320.1" cy="90.07" r="1.6" fill="#F8766D" fill-opacity="0.75"/><circle cx="332.9" cy="90.07" r="1.6" fill="#F8766D" fill-opacity="0.75"/><circle cx="337.6" cy="90.07" r="1.6" fill="#F8766D" fill-opacity="0.75"/><circle cx="338.4" cy="90.07" r="1.6" fill="#F8766D" fill-opacity="0.75"/><circle cx="345.1" cy="90.07" r="1.6" fill="#F8766D" fill-opacity="0.75"/><circle cx="350.1" cy="90.07" r="1.6" fill="#F8766D" fill-opacity="0.75"/><circle cx="351.7" cy="90.07" r="1.6" fill="#F8766D" fill-opacity="0.75"/><circle cx="354.8" cy="90.07" r="1.6" fill="#F8766D" fill-opacity="0.75"/><circle cx="359.5" cy="90.07" r="1.6" fill="#F8766D" fill-opacity="0.75"/><circle cx="365.0" cy="90.07" r="1.6" fill="#F8766D" fill-opacity="0.75"/><circle cx="367.3" cy="90.07" r="1.6" fill="#F8766D" fill-opacity="0.75"/><circle cx="370.5" cy="90.07" r="1.6" fill="#F8766D" fill-opacity="0.75"/><circle cx="377.5" cy="90.07" r="1.6" fill="#F8766D" fill-opacity="0.75"/><circle cx="379.0" cy="90.07" r="1.6" fill="#F8766D" fill-opacity="0.75"/><circle cx="296.3" cy="101.35" r="1.6" fill="#F8766D" fill-opacity="0.75"/><circle cx="337.6" cy="101.35" r="1.6" fill="#F8766D" fill-opacity="0.75"/><circle cx="339.2" cy="101.35" r="1.6" fill="#F8766D" fill-opacity="0.75"/><circle cx="341.5" cy="101.35" r="1.6" fill="#F8766D" fill-opacity="0.75"/><circle cx="343.9" cy="101.35" r="1.6" fill="#F8766D" fill-opacity="0.75"/><circle cx="347.8" cy="101.35" r="1.6" fill="#F8766D" fill-opacity="0.75"/><circle cx="350.1" cy="101.35" r="1.6" fill="#F8766D" fill-opacity="0.75"/><circle cx="354.0" cy="101.35" r="1.6" fill="#F8766D" fill-opacity="0.75"/><circle cx="355.6" cy="101.35" r="1.6" fill="#F8766D" fill-opacity="0.75"/><circle cx="358.0" cy="101.35" r="1.6" fill="#F8766D" fill-opacity="0.75"/><circle cx="360.3" cy="101.35" r="1.6" fill="#F8766D" fill-opacity="0.75"/><circle cx="361.9" cy="101.35" r="1.6" fill="#F8766D" fill-opacity="0.75"/><circle cx="367.3" cy="101.35" r="1.6" fill="#F8766D" fill-opacity="0.75"/><circle cx="379.9" cy="101.35" r="1.6" fill="#F8766D" fill-opacity="0.75"/><circle cx="312.3" cy="112.63" r="1.6" fill="#F8766D" fill-opacity="0.75"/><circle cx="329.0" cy="112.63" r="1.6" fill="#F8766D" fill-opacity="0.75"/><circle cx="340.0" cy="112.63" r="1.6" fill="#F8766D" fill-opacity="0.75"/><circle cx="341.8" cy="112.63" r="1.6" fill="#F8766D" fill-opacity="0.75"/><circle cx="349.0" cy="112.63" r="1.6" fill="#F8766D" fill-opacity="0.75"/><circle cx="350.9" cy="112.63" r="1.6" fill="#F8766D" fill-opacity="0.75"/><circle cx="352.5" cy="112.63" r="1.6" fill="#F8766D" fill-opacity="0.75"/><circle cx="354.0" cy="112.63" r="1.6" fill="#F8766D" fill-opacity="0.75"/><circle cx="358.0" cy="112.63" r="1.6" fill="#F8766D" fill-opacity="0.75"/><circle cx="360.3" cy="112.63" r="1.6" fill="#F8766D" fill-opacity="0.75"/><circle cx="372.0" cy="112.63" r="1.6" fill="#F8766D" fill-opacity="0.75"/><circle cx="374.4" cy="112.63" r="1.6" fill="#F8766D" fill-opacity="0.75"/><circle cx="375.6" cy="112.63" r="1.6" fill="#F8766D" fill-opacity="0.75"/><circle cx="320.6" cy="123.90" r="1.6" fill="#F8766D" fill-opacity="0.75"/><circle cx="337.6" cy="123.90" r="1.6" fill="#F8766D" fill-opacity="0.75"/><circle cx="346.2" cy="123.90" r="1.6" fill="#F8766D" fill-opacity="0.75"/><circle cx="348.6" cy="123.90" r="1.6" fill="#F8766D" fill-opacity="0.75"/><circle cx="350.9" cy="123.90" r="1.6" fill="#F8766D" fill-opacity="0.75"/><circle cx="360.3" cy="123.90" r="1.6" fill="#F8766D" fill-opacity="0.75"/><circle cx="375.2" cy="123.90" r="1.6" fill="#F8766D" fill-opacity="0.75"/><circle cx="296.3" cy="135.17" r="1.6" fill="#F8766D" fill-opacity="0.75"/><circle cx="302.6" cy="135.17" r="1.6" fill="#F8766D" fill-opacity="0.75"/><circle cx="305.0" cy="135.17" r="1.6" fill="#F8766D" fill-opacity="0.75"/><circle cx="323.7" cy="135.17" r="1.6" fill="#F8766D" fill-opacity="0.75"/><circle cx="325.8" cy="135.17" r="1.6" fill="#F8766D" fill-opacity="0.75"/><circle cx="333.7" cy="135.17" r="1.6" fill="#F8766D" fill-opacity="0.75"/><circle cx="337.6" cy="135.17" r="1.6" fill="#F8766D" fill-opacity="0.75"/><circle cx="340.7" cy="135.17" r="1.6" fill="#F8766D" fill-opacity="0.75"/><circle cx="348.6" cy="135.17" r="1.6" fill="#F8766D" fill-opacity="0.75"/><circle cx="350.1" cy="135.17" r="1.6" fill="#F8766D" fill-opacity="0.75"/><circle cx="354.0" cy="135.17" r="1.6" fill="#F8766D" fill-opacity="0.75"/><circle cx="355.9" cy="135.17" r="1.6" fill="#F8766D" fill-opacity="0.75"/><circle cx="366.6" cy="135.17" r="1.6" fill="#F8766D" fill-opacity="0.75"/><circle cx="305.4" cy="146.45" r="1.6" fill="#F8766D" fill-opacity="0.75"/><circle cx="316.7" cy="146.45" r="1.6" fill="#F8766D" fill-opacity="0.75"/><circle cx="318.3" cy="146.45" r="1.6" fill="#F8766D" fill-opacity="0.75"/><circle cx="330.5" cy="146.45" r="1.6" fill="#F8766D" fill-opacity="0.75"/><circle cx="339.6" cy="146.45" r="1.6" fill="#F8766D" fill-opacity="0.75"/><circle cx="354.8" cy="146.45" r="1.6" fill="#F8766D" fill-opacity="0.75"/><circle cx="279.9" cy="157.73" r="1.6" fill="#F8766D" fill-opacity="0.75"/><circle cx="311.2" cy="157.73" r="1.6" fill="#F8766D" fill-opacity="0.75"/><circle cx="331.8" cy="157.73" r="1.6" fill="#F8766D" fill-opacity="0.75"/><circle cx="340.3" cy="157.73" r="1.6" fill="#F8766D" fill-opacity="0.75"/><circle cx="341.8" cy="157.73" r="1.6" fill="#F8766D" fill-opacity="0.75"/><circle cx="343.9" cy="157.73" r="1.6" fill="#F8766D" fill-opacity="0.75"/><circle cx="315.9" cy="169.00" r="1.6" fill="#F8766D" fill-opacity="0.75"/><circle cx="349.0" cy="169.00" r="1.6" fill="#F8766D" fill-opacity="0.75"/><circle cx="366.1" cy="191.55" r="1.6" fill="#F8766D" fill-opacity="0.75"/><circle cx="302.3" cy="202.83" r="1.6" fill="#F8766D" fill-opacity="0.75"/><circle cx="333.4" cy="214.10" r="1.6" fill="#F8766D" fill-opacity="0.75"/><circle cx="379.1" cy="214.10" r="1.6" fill="#F8766D" fill-opacity="0.75"/><circle cx="312.0" cy="225.38" r="1.6" fill="#F8766D" fill-opacity="0.75"/><circle cx="315.1" cy="236.65" r="1.6" fill="#F8766D" fill-opacity="0.75"/><circle cx="330.0" cy="236.65" r="1.6" fill="#F8766D" fill-opacity="0.75"/><circle cx="310.1" cy="247.93" r="1.6" fill="#F8766D" fill-opacity="0.75"/><circle cx="315.9" cy="247.93" r="1.6" fill="#F8766D" fill-opacity="0.75"/><circle cx="347.8" cy="259.20" r="1.6" fill="#F8766D" fill-opacity="0.75"/><path d="M283.90,45.98L287.90,45.98L285.90,43.03Z" fill="#00BFC4" fill-opacity="0.8"/><path d="M309.70,45.98L313.70,45.98L311.70,43.03Z" fill="#00BFC4" fill-opacity="0.8"/><path d="M311.60,45.98L315.60,45.98L313.60,43.03Z" fill="#00BFC4" fill-opacity="0.8"/><path d="M358.30,45.98L362.30,45.98L360.30,43.03Z" fill="#00BFC4" fill-opacity="0.8"/><path d="M294.30,68.53L298.30,68.53L296.30,65.58Z" fill="#00BFC4" fill-opacity="0.8"/><path d="M326.00,79.80L330.00,79.80L328.00,76.85Z" fill="#00BFC4" fill-opacity="0.8"/><path d="M279.00,91.07L283.00,91.07L281.00,88.12Z" fill="#00BFC4" fill-opacity="0.8"/><path d="M283.90,102.35L287.90,102.35L285.90,99.40Z" fill="#00BFC4" fill-opacity="0.8"/><path d="M286.50,102.35L290.50,102.35L288.50,99.40Z" fill="#00BFC4" fill-opacity="0.8"/><path d="M299.00,113.63L303.00,113.63L301.00,110.68Z" fill="#00BFC4" fill-opacity="0.8"/><path d="M345.50,113.63L349.50,113.63L347.50,110.68Z" fill="#00BFC4" fill-opacity="0.8"/><path d="M310.30,124.90L314.30,124.90L312.30,121.95Z" fill="#00BFC4" fill-opacity="0.8"/><path d="M323.30,124.90L327.30,124.90L325.30,121.95Z" fill="#00BFC4" fill-opacity="0.8"/><path d="M332.00,124.90L336.00,124.90L334.00,121.95Z" fill="#00BFC4" fill-opacity="0.8"/><path d="M350.80,124.90L354.80,124.90L352.80,121.95Z" fill="#00BFC4" fill-opacity="0.8"/><path d="M298.30,136.17L302.30,136.17L300.30,133.22Z" fill="#00BFC4" fill-opacity="0.8"/><path d="M265.90,147.45L269.90,147.45L267.90,144.50Z" fill="#00BFC4" fill-opacity="0.8"/><path d="M283.70,147.45L287.70,147.45L285.70,144.50Z" fill="#00BFC4" fill-opacity="0.8"/><path d="M293.60,147.45L297.60,147.45L295.60,144.50Z" fill="#00BFC4" fill-opacity="0.8"/><path d="M303.70,147.45L307.70,147.45L305.70,144.50Z" fill="#00BFC4" fill-opacity="0.8"/><path d="M309.70,147.45L313.70,147.45L311.70,144.50Z" fill="#00BFC4" fill-opacity="0.8"/><path d="M319.10,147.45L323.10,147.45L321.10,144.50Z" fill="#00BFC4" fill-opacity="0.8"/><path d="M328.60,147.45L332.60,147.45L330.60,144.50Z" fill="#00BFC4" fill-opacity="0.8"/><path d="M274.30,158.73L278.30,158.73L276.30,155.78Z" fill="#00BFC4" fill-opacity="0.8"/><path d="M277.10,158.73L281.10,158.73L279.10,155.78Z" fill="#00BFC4" fill-opacity="0.8"/><path d="M285.00,158.73L289.00,158.73L287.00,155.78Z" fill="#00BFC4" fill-opacity="0.8"/><path d="M306.10,158.73L310.10,158.73L308.10,155.78Z" fill="#00BFC4" fill-opacity="0.8"/><path d="M307.70,158.73L311.70,158.73L309.70,155.78Z" fill="#00BFC4" fill-opacity="0.8"/><path d="M303.00,170.00L307.00,170.00L305.00,167.05Z" fill="#00BFC4" fill-opacity="0.8"/><path d="M275.60,181.27L279.60,181.27L277.60,178.32Z" fill="#00BFC4" fill-opacity="0.8"/><path d="M281.50,181.27L285.50,181.27L283.50,178.32Z" fill="#00BFC4" fill-opacity="0.8"/><path d="M286.50,181.27L290.50,181.27L288.50,178.32Z" fill="#00BFC4" fill-opacity="0.8"/><path d="M290.40,181.27L294.40,181.27L292.40,178.32Z" fill="#00BFC4" fill-opacity="0.8"/><path d="M306.10,181.27L310.10,181.27L308.10,178.32Z" fill="#00BFC4" fill-opacity="0.8"/><path d="M316.30,181.27L320.30,181.27L318.30,178.32Z" fill="#00BFC4" fill-opacity="0.8"/><path d="M320.20,181.27L324.20,181.27L322.20,178.32Z" fill="#00BFC4" fill-opacity="0.8"/><path d="M322.50,181.27L326.50,181.27L324.50,178.32Z" fill="#00BFC4" fill-opacity="0.8"/><path d="M332.20,181.27L336.20,181.27L334.20,178.32Z" fill="#00BFC4" fill-opacity="0.8"/><path d="M281.00,192.55L285.00,192.55L283.00,189.60Z" fill="#00BFC4" fill-opacity="0.8"/><path d="M304.50,192.55L308.50,192.55L306.50,189.60Z" fill="#00BFC4" fill-opacity="0.8"/><path d="M306.90,192.55L310.90,192.55L308.90,189.60Z" fill="#00BFC4" fill-opacity="0.8"/><path d="M313.90,192.55L317.90,192.55L315.90,189.60Z" fill="#00BFC4" fill-opacity="0.8"/><path d="M317.80,192.55L321.80,192.55L319.80,189.60Z" fill="#00BFC4" fill-opacity="0.8"/><path d="M274.00,203.83L278.00,203.83L276.00,200.88Z" fill="#00BFC4" fill-opacity="0.8"/><path d="M275.90,203.83L279.90,203.83L277.90,200.88Z" fill="#00BFC4" fill-opacity="0.8"/><path d="M292.80,203.83L296.80,203.83L294.80,200.88Z" fill="#00BFC4" fill-opacity="0.8"/><path d="M294.70,203.83L298.70,203.83L296.70,200.88Z" fill="#00BFC4" fill-opacity="0.8"/><path d="M299.00,203.83L303.00,203.83L301.00,200.88Z" fill="#00BFC4" fill-opacity="0.8"/><path d="M301.40,203.83L305.40,203.83L303.40,200.88Z" fill="#00BFC4" fill-opacity="0.8"/><path d="M303.40,203.83L307.40,203.83L305.40,200.88Z" fill="#00BFC4" fill-opacity="0.8"/><path d="M311.60,203.83L315.60,203.83L313.60,200.88Z" fill="#00BFC4" fill-opacity="0.8"/><path d="M270.10,215.10L274.10,215.10L272.10,212.15Z" fill="#00BFC4" fill-opacity="0.8"/><path d="M279.50,215.10L283.50,215.10L281.50,212.15Z" fill="#00BFC4" fill-opacity="0.8"/><path d="M289.70,215.10L293.70,215.10L291.70,212.15Z" fill="#00BFC4" fill-opacity="0.8"/><path d="M292.00,215.10L296.00,215.10L294.00,212.15Z" fill="#00BFC4" fill-opacity="0.8"/><path d="M298.00,215.10L302.00,215.10L300.00,212.15Z" fill="#00BFC4" fill-opacity="0.8"/><path d="M299.50,215.10L303.50,215.10L301.50,212.15Z" fill="#00BFC4" fill-opacity="0.8"/><path d="M309.20,215.10L313.20,215.10L311.20,212.15Z" fill="#00BFC4" fill-opacity="0.8"/><path d="M315.50,215.10L319.50,215.10L317.50,212.15Z" fill="#00BFC4" fill-opacity="0.8"/><path d="M327.00,215.10L331.00,215.10L329.00,212.15Z" fill="#00BFC4" fill-opacity="0.8"/><path d="M278.40,226.38L282.40,226.38L280.40,223.43Z" fill="#00BFC4" fill-opacity="0.8"/><path d="M280.30,226.38L284.30,226.38L282.30,223.43Z" fill="#00BFC4" fill-opacity="0.8"/><path d="M285.70,226.38L289.70,226.38L287.70,223.43Z" fill="#00BFC4" fill-opacity="0.8"/><path d="M291.20,226.38L295.20,226.38L293.20,223.43Z" fill="#00BFC4" fill-opacity="0.8"/><path d="M295.10,226.38L299.10,226.38L297.10,223.43Z" fill="#00BFC4" fill-opacity="0.8"/><path d="M296.70,226.38L300.70,226.38L298.70,223.43Z" fill="#00BFC4" fill-opacity="0.8"/><path d="M303.70,226.38L307.70,226.38L305.70,223.43Z" fill="#00BFC4" fill-opacity="0.8"/><path d="M310.00,226.38L314.00,226.38L312.00,223.43Z" fill="#00BFC4" fill-opacity="0.8"/><path d="M316.30,226.38L320.30,226.38L318.30,223.43Z" fill="#00BFC4" fill-opacity="0.8"/><path d="M318.10,226.38L322.10,226.38L320.10,223.43Z" fill="#00BFC4" fill-opacity="0.8"/><path d="M324.10,226.38L328.10,226.38L326.10,223.43Z" fill="#00BFC4" fill-opacity="0.8"/><path d="M328.00,226.38L332.00,226.38L330.00,223.43Z" fill="#00BFC4" fill-opacity="0.8"/><path d="M343.40,226.38L347.40,226.38L345.40,223.43Z" fill="#00BFC4" fill-opacity="0.8"/><path d="M274.50,237.65L278.50,237.65L276.50,234.70Z" fill="#00BFC4" fill-opacity="0.8"/><path d="M287.80,237.65L291.80,237.65L289.80,234.70Z" fill="#00BFC4" fill-opacity="0.8"/><path d="M296.70,237.65L300.70,237.65L298.70,234.70Z" fill="#00BFC4" fill-opacity="0.8"/><path d="M300.60,237.65L304.60,237.65L302.60,234.70Z" fill="#00BFC4" fill-opacity="0.8"/><path d="M309.20,237.65L313.20,237.65L311.20,234.70Z" fill="#00BFC4" fill-opacity="0.8"/><path d="M317.00,237.65L321.00,237.65L319.00,234.70Z" fill="#00BFC4" fill-opacity="0.8"/><path d="M319.40,237.65L323.40,237.65L321.40,234.70Z" fill="#00BFC4" fill-opacity="0.8"/><path d="M333.30,237.65L337.30,237.65L335.30,234.70Z" fill="#00BFC4" fill-opacity="0.8"/><path d="M273.20,248.93L277.20,248.93L275.20,245.98Z" fill="#00BFC4" fill-opacity="0.8"/><path d="M275.60,248.93L279.60,248.93L277.60,245.98Z" fill="#00BFC4" fill-opacity="0.8"/><path d="M277.90,248.93L281.90,248.93L279.90,245.98Z" fill="#00BFC4" fill-opacity="0.8"/><path d="M280.30,248.93L284.30,248.93L282.30,245.98Z" fill="#00BFC4" fill-opacity="0.8"/><path d="M282.60,248.93L286.60,248.93L284.60,245.98Z" fill="#00BFC4" fill-opacity="0.8"/><path d="M284.60,248.93L288.60,248.93L286.60,245.98Z" fill="#00BFC4" fill-opacity="0.8"/><path d="M286.80,248.93L290.80,248.93L288.80,245.98Z" fill="#00BFC4" fill-opacity="0.8"/><path d="M294.30,248.93L298.30,248.93L296.30,245.98Z" fill="#00BFC4" fill-opacity="0.8"/><path d="M296.70,248.93L300.70,248.93L298.70,245.98Z" fill="#00BFC4" fill-opacity="0.8"/><path d="M299.00,248.93L303.00,248.93L301.00,245.98Z" fill="#00BFC4" fill-opacity="0.8"/><path d="M301.40,248.93L305.40,248.93L303.40,245.98Z" fill="#00BFC4" fill-opacity="0.8"/><path d="M303.70,248.93L307.70,248.93L305.70,245.98Z" fill="#00BFC4" fill-opacity="0.8"/><path d="M306.10,248.93L310.10,248.93L308.10,245.98Z" fill="#00BFC4" fill-opacity="0.8"/><path d="M310.80,248.93L314.80,248.93L312.80,245.98Z" fill="#00BFC4" fill-opacity="0.8"/><path d="M371.90,248.93L375.90,248.93L373.90,245.98Z" fill="#00BFC4" fill-opacity="0.8"/><path d="M270.90,260.20L274.90,260.20L272.90,257.25Z" fill="#00BFC4" fill-opacity="0.8"/><path d="M282.60,260.20L286.60,260.20L284.60,257.25Z" fill="#00BFC4" fill-opacity="0.8"/><path d="M285.00,260.20L289.00,260.20L287.00,257.25Z" fill="#00BFC4" fill-opacity="0.8"/><path d="M288.90,260.20L292.90,260.20L290.90,257.25Z" fill="#00BFC4" fill-opacity="0.8"/><path d="M295.10,260.20L299.10,260.20L297.10,257.25Z" fill="#00BFC4" fill-opacity="0.8"/><path d="M297.50,260.20L301.50,260.20L299.50,257.25Z" fill="#00BFC4" fill-opacity="0.8"/><path d="M303.70,260.20L307.70,260.20L305.70,257.25Z" fill="#00BFC4" fill-opacity="0.8"/><path d="M306.90,260.20L310.90,260.20L308.90,257.25Z" fill="#00BFC4" fill-opacity="0.8"/><path d="M313.10,260.20L317.10,260.20L315.10,257.25Z" fill="#00BFC4" fill-opacity="0.8"/><path d="M315.50,260.20L319.50,260.20L317.50,257.25Z" fill="#00BFC4" fill-opacity="0.8"/><path d="M320.20,260.20L324.20,260.20L322.20,257.25Z" fill="#00BFC4" fill-opacity="0.8"/><path d="M323.30,260.20L327.30,260.20L325.30,257.25Z" fill="#00BFC4" fill-opacity="0.8"/><path d="M326.80,260.20L330.80,260.20L328.80,257.25Z" fill="#00BFC4" fill-opacity="0.8"/><path d="M263.80,271.48L267.80,271.48L265.80,268.53Z" fill="#00BFC4" fill-opacity="0.8"/><path d="M282.50,271.48L286.50,271.48L284.50,268.53Z" fill="#00BFC4" fill-opacity="0.8"/><path d="M284.30,271.48L288.30,271.48L286.30,268.53Z" fill="#00BFC4" fill-opacity="0.8"/><path d="M286.40,271.48L290.40,271.48L288.40,268.53Z" fill="#00BFC4" fill-opacity="0.8"/><path d="M288.60,271.48L292.60,271.48L290.60,268.53Z" fill="#00BFC4" fill-opacity="0.8"/><path d="M290.80,271.48L294.80,271.48L292.80,268.53Z" fill="#00BFC4" fill-opacity="0.8"/><path d="M298.10,271.48L302.10,271.48L300.10,268.53Z" fill="#00BFC4" fill-opacity="0.8"/><path d="M300.30,271.48L304.30,271.48L302.30,268.53Z" fill="#00BFC4" fill-opacity="0.8"/><path d="M302.50,271.48L306.50,271.48L304.50,268.53Z" fill="#00BFC4" fill-opacity="0.8"/><path d="M304.70,271.48L308.70,271.48L306.70,268.53Z" fill="#00BFC4" fill-opacity="0.8"/><path d="M306.90,271.48L310.90,271.48L308.90,268.53Z" fill="#00BFC4" fill-opacity="0.8"/><path d="M308.80,271.48L312.80,271.48L310.80,268.53Z" fill="#00BFC4" fill-opacity="0.8"/><path d="M310.50,271.48L314.50,271.48L312.50,268.53Z" fill="#00BFC4" fill-opacity="0.8"/><path d="M312.70,271.48L316.70,271.48L314.70,268.53Z" fill="#00BFC4" fill-opacity="0.8"/><path d="M314.90,271.48L318.90,271.48L316.90,268.53Z" fill="#00BFC4" fill-opacity="0.8"/><path d="M317.10,271.48L321.10,271.48L319.10,268.53Z" fill="#00BFC4" fill-opacity="0.8"/><path d="M323.60,271.48L327.60,271.48L325.60,268.53Z" fill="#00BFC4" fill-opacity="0.8"/><path d="M336.80,271.48L340.80,271.48L338.80,268.53Z" fill="#00BFC4" fill-opacity="0.8"/><path d="M339.70,271.48L343.70,271.48L341.70,268.53Z" fill="#00BFC4" fill-opacity="0.8"/><path d="M279.20,109.71 L281.77,109.24 L284.34,108.77 L286.91,108.30 L289.48,107.82 L292.05,107.34 L294.62,106.85 L297.19,106.36 L299.76,105.86 L302.33,105.35 L304.90,104.83 L307.47,104.30 L310.04,103.76 L312.61,103.20 L315.18,102.62 L317.75,102.03 L320.32,101.41 L322.89,100.76 L325.46,100.08 L328.03,99.37 L330.60,98.61 L333.17,97.80 L335.74,96.94 L338.31,96.01 L340.88,95.01 L343.45,93.94 L346.02,92.79 L348.59,91.57 L351.16,90.27 L353.73,88.90 L356.30,87.47 L358.87,85.98 L361.44,84.44 L364.01,82.86 L366.58,81.24 L369.15,79.58 L371.72,77.90 L374.29,76.20 L376.86,74.48 L379.43,72.74 L382.00,70.98 L382.00,96.42 L379.43,96.96 L376.86,97.52 L374.29,98.10 L371.72,98.70 L369.15,99.32 L366.58,99.96 L364.01,100.64 L361.44,101.36 L358.87,102.12 L356.30,102.93 L353.73,103.80 L351.16,104.73 L348.59,105.73 L346.02,106.81 L343.45,107.96 L340.88,109.19 L338.31,110.49 L335.74,111.86 L333.17,113.30 L330.60,114.79 L328.03,116.33 L325.46,117.92 L322.89,119.54 L320.32,121.19 L317.75,122.87 L315.18,124.58 L312.61,126.30 L310.04,128.04 L307.47,129.80 L304.90,131.57 L302.33,133.35 L299.76,135.14 L297.19,136.94 L294.62,138.75 L292.05,140.56 L289.48,142.38 L286.91,144.20 L284.34,146.03 L281.77,147.86 L279.20,149.69Z" fill="#999" fill-opacity="0.4"/><path d="M265.80,201.11 L268.48,201.80 L271.16,202.47 L273.84,203.12 L276.52,203.74 L279.20,204.33 L281.88,204.88 L284.56,205.38 L287.24,205.82 L289.92,206.20 L292.60,206.49 L295.28,206.68 L297.96,206.76 L300.64,206.70 L303.32,206.49 L306.00,206.14 L308.68,205.63 L311.36,204.97 L314.04,204.19 L316.72,203.29 L319.40,202.30 L322.08,201.22 L324.76,200.08 L327.44,198.88 L330.12,197.64 L332.80,196.36 L335.48,195.05 L338.16,193.71 L340.84,192.35 L343.52,190.98 L346.20,189.59 L348.88,188.18 L351.56,186.77 L354.24,185.34 L356.92,183.90 L359.60,182.46 L362.28,181.01 L364.96,179.56 L367.64,178.10 L370.32,176.64 L373.00,175.17 L373.00,238.03 L370.32,237.25 L367.64,236.47 L364.96,235.70 L362.28,234.93 L359.60,234.16 L356.92,233.41 L354.24,232.66 L351.56,231.91 L348.88,231.18 L346.20,230.46 L343.52,229.76 L340.84,229.07 L338.16,228.39 L335.48,227.74 L332.80,227.11 L330.12,226.52 L327.44,225.96 L324.76,225.45 L322.08,224.99 L319.40,224.60 L316.72,224.29 L314.04,224.08 L311.36,223.98 L308.68,224.01 L306.00,224.19 L303.32,224.52 L300.64,225.00 L297.96,225.62 L295.28,226.38 L292.60,227.26 L289.92,228.24 L287.24,229.30 L284.56,230.43 L281.88,231.61 L279.20,232.85 L276.52,234.12 L273.84,235.43 L271.16,236.76 L268.48,238.11 L265.80,239.49Z" fill="#999" fill-opacity="0.4"/><line x1="279.2" y1="129.7" x2="382.0" y2="83.7" stroke="#F8766D" stroke-width="1.7"/><line x1="265.8" y1="220.3" x2="373.0" y2="206.6" stroke="#00BFC4" stroke-width="1.7" stroke-dasharray="3.1 2.1"/><path d="M240.6,33.5 H418.0 V281.4 H240.6" fill="none" stroke="#333" stroke-width="1.2"/><line x1="240.6" y1="33.5" x2="240.6" y2="281" stroke="#333" stroke-width="1.2"/><rect x="240.6" y="10.5" width="177.40" height="23.0" fill="#d9d9d9"/><path d="M240.6,10.5 H418.0 V33.5 H240.6" fill="none" stroke="#333" stroke-width="1.2"/><line x1="240.6" y1="10.5" x2="240.6" y2="33.5" stroke="#333" stroke-width="1.2"/><text transform="translate(329.30,26.60) scale(1.055,1)" font-family="Liberation Sans, sans-serif" font-size="11.9" fill="#1a1a1a" text-anchor="middle">Mental Arithmetic</text><line x1="245.20" y1="281.4" x2="245.20" y2="284.7" stroke="#333" stroke-width="1.1"/><text transform="translate(245.20,297.60) scale(1.08,1)" font-family="Liberation Sans, sans-serif" font-size="12.2" fill="#333" text-anchor="middle">-2</text><line x1="284.77" y1="281.4" x2="284.77" y2="284.7" stroke="#333" stroke-width="1.1"/><text transform="translate(284.77,297.60) scale(1.08,1)" font-family="Liberation Sans, sans-serif" font-size="12.2" fill="#333" text-anchor="middle">-1</text><line x1="324.34" y1="281.4" x2="324.34" y2="284.7" stroke="#333" stroke-width="1.1"/><text transform="translate(324.34,297.60) scale(1.08,1)" font-family="Liberation Sans, sans-serif" font-size="12.2" fill="#333" text-anchor="middle">0</text><line x1="363.91" y1="281.4" x2="363.91" y2="284.7" stroke="#333" stroke-width="1.1"/><text transform="translate(363.91,297.60) scale(1.08,1)" font-family="Liberation Sans, sans-serif" font-size="12.2" fill="#333" text-anchor="middle">1</text><line x1="403.48" y1="281.4" x2="403.48" y2="284.7" stroke="#333" stroke-width="1.1"/><text transform="translate(403.48,297.60) scale(1.08,1)" font-family="Liberation Sans, sans-serif" font-size="12.2" fill="#333" text-anchor="middle">2</text><rect x="426.6" y="33.5" width="177.70" height="247.5" fill="#fff"/><line x1="451.59" y1="35.8" x2="451.59" y2="279.5" stroke="#ededed" stroke-width="1.2"/><line x1="491.16" y1="35.8" x2="491.16" y2="279.5" stroke="#ededed" stroke-width="1.2"/><line x1="530.73" y1="35.8" x2="530.73" y2="279.5" stroke="#ededed" stroke-width="1.2"/><line x1="570.30" y1="35.8" x2="570.30" y2="279.5" stroke="#ededed" stroke-width="1.2"/><line x1="428.6" y1="252.82" x2="602.3" y2="252.82" stroke="#ededed" stroke-width="1.2"/><line x1="428.6" y1="196.48" x2="602.3" y2="196.48" stroke="#ededed" stroke-width="1.2"/><line x1="428.6" y1="140.12" x2="602.3" y2="140.12" stroke="#ededed" stroke-width="1.2"/><line x1="428.6" y1="83.78" x2="602.3" y2="83.78" stroke="#ededed" stroke-width="1.2"/><line x1="431.80" y1="35.8" x2="431.80" y2="279.5" stroke="#ebebeb" stroke-width="1.4"/><line x1="471.37" y1="35.8" x2="471.37" y2="279.5" stroke="#ebebeb" stroke-width="1.4"/><line x1="510.94" y1="35.8" x2="510.94" y2="279.5" stroke="#ebebeb" stroke-width="1.4"/><line x1="550.51" y1="35.8" x2="550.51" y2="279.5" stroke="#ebebeb" stroke-width="1.4"/><line x1="590.08" y1="35.8" x2="590.08" y2="279.5" stroke="#ebebeb" stroke-width="1.4"/><line x1="428.6" y1="224.65" x2="602.3" y2="224.65" stroke="#ebebeb" stroke-width="1.4"/><line x1="428.6" y1="168.30" x2="602.3" y2="168.30" stroke="#ebebeb" stroke-width="1.4"/><line x1="428.6" y1="111.95" x2="602.3" y2="111.95" stroke="#ebebeb" stroke-width="1.4"/><line x1="428.6" y1="55.60" x2="602.3" y2="55.60" stroke="#ebebeb" stroke-width="1.4"/><circle cx="492.5" cy="44.98" r="1.6" fill="#F8766D" fill-opacity="0.75"/><circle cx="496.7" cy="44.98" r="1.6" fill="#F8766D" fill-opacity="0.75"/><circle cx="518.9" cy="44.98" r="1.6" fill="#F8766D" fill-opacity="0.75"/><circle cx="521.3" cy="44.98" r="1.6" fill="#F8766D" fill-opacity="0.75"/><circle cx="526.3" cy="44.98" r="1.6" fill="#F8766D" fill-opacity="0.75"/><circle cx="527.5" cy="44.98" r="1.6" fill="#F8766D" fill-opacity="0.75"/><circle cx="533.0" cy="44.98" r="1.6" fill="#F8766D" fill-opacity="0.75"/><circle cx="510.5" cy="56.25" r="1.6" fill="#F8766D" fill-opacity="0.75"/><circle cx="518.4" cy="56.25" r="1.6" fill="#F8766D" fill-opacity="0.75"/><circle cx="523.1" cy="56.25" r="1.6" fill="#F8766D" fill-opacity="0.75"/><circle cx="530.7" cy="56.25" r="1.6" fill="#F8766D" fill-opacity="0.75"/><circle cx="554.1" cy="56.25" r="1.6" fill="#F8766D" fill-opacity="0.75"/><circle cx="557.7" cy="56.25" r="1.6" fill="#F8766D" fill-opacity="0.75"/><circle cx="492.5" cy="67.53" r="1.6" fill="#F8766D" fill-opacity="0.75"/><circle cx="504.3" cy="67.53" r="1.6" fill="#F8766D" fill-opacity="0.75"/><circle cx="505.0" cy="67.53" r="1.6" fill="#F8766D" fill-opacity="0.75"/><circle cx="511.8" cy="67.53" r="1.6" fill="#F8766D" fill-opacity="0.75"/><circle cx="518.1" cy="67.53" r="1.6" fill="#F8766D" fill-opacity="0.75"/><circle cx="529.4" cy="67.53" r="1.6" fill="#F8766D" fill-opacity="0.75"/><circle cx="532.7" cy="67.53" r="1.6" fill="#F8766D" fill-opacity="0.75"/><circle cx="533.5" cy="67.53" r="1.6" fill="#F8766D" fill-opacity="0.75"/><circle cx="539.7" cy="67.53" r="1.6" fill="#F8766D" fill-opacity="0.75"/><circle cx="550.7" cy="67.53" r="1.6" fill="#F8766D" fill-opacity="0.75"/><circle cx="556.0" cy="67.53" r="1.6" fill="#F8766D" fill-opacity="0.75"/><circle cx="564.3" cy="67.53" r="1.6" fill="#F8766D" fill-opacity="0.75"/><circle cx="569.0" cy="67.53" r="1.6" fill="#F8766D" fill-opacity="0.75"/><circle cx="480.0" cy="78.80" r="1.6" fill="#F8766D" fill-opacity="0.75"/><circle cx="491.4" cy="78.80" r="1.6" fill="#F8766D" fill-opacity="0.75"/><circle cx="496.1" cy="78.80" r="1.6" fill="#F8766D" fill-opacity="0.75"/><circle cx="498.8" cy="78.80" r="1.6" fill="#F8766D" fill-opacity="0.75"/><circle cx="509.0" cy="78.80" r="1.6" fill="#F8766D" fill-opacity="0.75"/><circle cx="516.0" cy="78.80" r="1.6" fill="#F8766D" fill-opacity="0.75"/><circle cx="524.7" cy="78.80" r="1.6" fill="#F8766D" fill-opacity="0.75"/><circle cx="526.3" cy="78.80" r="1.6" fill="#F8766D" fill-opacity="0.75"/><circle cx="533.0" cy="78.80" r="1.6" fill="#F8766D" fill-opacity="0.75"/><circle cx="540.8" cy="78.80" r="1.6" fill="#F8766D" fill-opacity="0.75"/><circle cx="542.4" cy="78.80" r="1.6" fill="#F8766D" fill-opacity="0.75"/><circle cx="553.3" cy="78.80" r="1.6" fill="#F8766D" fill-opacity="0.75"/><circle cx="567.4" cy="78.80" r="1.6" fill="#F8766D" fill-opacity="0.75"/><circle cx="501.1" cy="90.07" r="1.6" fill="#F8766D" fill-opacity="0.75"/><circle cx="502.7" cy="90.07" r="1.6" fill="#F8766D" fill-opacity="0.75"/><circle cx="505.8" cy="90.07" r="1.6" fill="#F8766D" fill-opacity="0.75"/><circle cx="517.3" cy="90.07" r="1.6" fill="#F8766D" fill-opacity="0.75"/><circle cx="521.3" cy="90.07" r="1.6" fill="#F8766D" fill-opacity="0.75"/><circle cx="529.9" cy="90.07" r="1.6" fill="#F8766D" fill-opacity="0.75"/><circle cx="532.2" cy="90.07" r="1.6" fill="#F8766D" fill-opacity="0.75"/><circle cx="538.5" cy="90.07" r="1.6" fill="#F8766D" fill-opacity="0.75"/><circle cx="544.0" cy="90.07" r="1.6" fill="#F8766D" fill-opacity="0.75"/><circle cx="556.2" cy="90.07" r="1.6" fill="#F8766D" fill-opacity="0.75"/><circle cx="590.1" cy="90.07" r="1.6" fill="#F8766D" fill-opacity="0.75"/><circle cx="595.6" cy="90.07" r="1.6" fill="#F8766D" fill-opacity="0.75"/><circle cx="505.8" cy="101.35" r="1.6" fill="#F8766D" fill-opacity="0.75"/><circle cx="508.2" cy="101.35" r="1.6" fill="#F8766D" fill-opacity="0.75"/><circle cx="515.0" cy="101.35" r="1.6" fill="#F8766D" fill-opacity="0.75"/><circle cx="525.6" cy="101.35" r="1.6" fill="#F8766D" fill-opacity="0.75"/><circle cx="536.9" cy="101.35" r="1.6" fill="#F8766D" fill-opacity="0.75"/><circle cx="544.0" cy="101.35" r="1.6" fill="#F8766D" fill-opacity="0.75"/><circle cx="546.3" cy="101.35" r="1.6" fill="#F8766D" fill-opacity="0.75"/><circle cx="548.7" cy="101.35" r="1.6" fill="#F8766D" fill-opacity="0.75"/><circle cx="553.3" cy="101.35" r="1.6" fill="#F8766D" fill-opacity="0.75"/><circle cx="560.4" cy="101.35" r="1.6" fill="#F8766D" fill-opacity="0.75"/><circle cx="562.0" cy="101.35" r="1.6" fill="#F8766D" fill-opacity="0.75"/><circle cx="577.6" cy="101.35" r="1.6" fill="#F8766D" fill-opacity="0.75"/><circle cx="465.6" cy="112.63" r="1.6" fill="#F8766D" fill-opacity="0.75"/><circle cx="509.0" cy="112.63" r="1.6" fill="#F8766D" fill-opacity="0.75"/><circle cx="511.3" cy="112.63" r="1.6" fill="#F8766D" fill-opacity="0.75"/><circle cx="515.5" cy="112.63" r="1.6" fill="#F8766D" fill-opacity="0.75"/><circle cx="518.9" cy="112.63" r="1.6" fill="#F8766D" fill-opacity="0.75"/><circle cx="533.5" cy="112.63" r="1.6" fill="#F8766D" fill-opacity="0.75"/><circle cx="540.0" cy="112.63" r="1.6" fill="#F8766D" fill-opacity="0.75"/><circle cx="544.7" cy="112.63" r="1.6" fill="#F8766D" fill-opacity="0.75"/><circle cx="582.3" cy="112.63" r="1.6" fill="#F8766D" fill-opacity="0.75"/><circle cx="482.7" cy="123.90" r="1.6" fill="#F8766D" fill-opacity="0.75"/><circle cx="491.7" cy="123.90" r="1.6" fill="#F8766D" fill-opacity="0.75"/><circle cx="503.9" cy="123.90" r="1.6" fill="#F8766D" fill-opacity="0.75"/><circle cx="520.5" cy="123.90" r="1.6" fill="#F8766D" fill-opacity="0.75"/><circle cx="522.0" cy="123.90" r="1.6" fill="#F8766D" fill-opacity="0.75"/><circle cx="529.9" cy="123.90" r="1.6" fill="#F8766D" fill-opacity="0.75"/><circle cx="541.9" cy="123.90" r="1.6" fill="#F8766D" fill-opacity="0.75"/><circle cx="547.9" cy="123.90" r="1.6" fill="#F8766D" fill-opacity="0.75"/><circle cx="551.0" cy="123.90" r="1.6" fill="#F8766D" fill-opacity="0.75"/><circle cx="486.7" cy="135.17" r="1.6" fill="#F8766D" fill-opacity="0.75"/><circle cx="499.3" cy="135.17" r="1.6" fill="#F8766D" fill-opacity="0.75"/><circle cx="512.9" cy="135.17" r="1.6" fill="#F8766D" fill-opacity="0.75"/><circle cx="515.5" cy="135.17" r="1.6" fill="#F8766D" fill-opacity="0.75"/><circle cx="520.5" cy="135.17" r="1.6" fill="#F8766D" fill-opacity="0.75"/><circle cx="524.4" cy="135.17" r="1.6" fill="#F8766D" fill-opacity="0.75"/><circle cx="526.3" cy="135.17" r="1.6" fill="#F8766D" fill-opacity="0.75"/><circle cx="532.2" cy="135.17" r="1.6" fill="#F8766D" fill-opacity="0.75"/><circle cx="544.0" cy="135.17" r="1.6" fill="#F8766D" fill-opacity="0.75"/><circle cx="545.5" cy="135.17" r="1.6" fill="#F8766D" fill-opacity="0.75"/><circle cx="565.1" cy="135.17" r="1.6" fill="#F8766D" fill-opacity="0.75"/><circle cx="491.7" cy="146.45" r="1.6" fill="#F8766D" fill-opacity="0.75"/><circle cx="497.2" cy="146.45" r="1.6" fill="#F8766D" fill-opacity="0.75"/><circle cx="514.4" cy="146.45" r="1.6" fill="#F8766D" fill-opacity="0.75"/><circle cx="519.7" cy="146.45" r="1.6" fill="#F8766D" fill-opacity="0.75"/><circle cx="525.2" cy="146.45" r="1.6" fill="#F8766D" fill-opacity="0.75"/><circle cx="544.0" cy="146.45" r="1.6" fill="#F8766D" fill-opacity="0.75"/><circle cx="462.8" cy="157.73" r="1.6" fill="#F8766D" fill-opacity="0.75"/><circle cx="483.9" cy="157.73" r="1.6" fill="#F8766D" fill-opacity="0.75"/><circle cx="504.3" cy="157.73" r="1.6" fill="#F8766D" fill-opacity="0.75"/><circle cx="512.9" cy="157.73" r="1.6" fill="#F8766D" fill-opacity="0.75"/><circle cx="518.1" cy="157.73" r="1.6" fill="#F8766D" fill-opacity="0.75"/><circle cx="523.6" cy="157.73" r="1.6" fill="#F8766D" fill-opacity="0.75"/><circle cx="529.9" cy="157.73" r="1.6" fill="#F8766D" fill-opacity="0.75"/><circle cx="531.4" cy="157.73" r="1.6" fill="#F8766D" fill-opacity="0.75"/><circle cx="533.0" cy="157.73" r="1.6" fill="#F8766D" fill-opacity="0.75"/><circle cx="534.6" cy="157.73" r="1.6" fill="#F8766D" fill-opacity="0.75"/><circle cx="539.7" cy="157.73" r="1.6" fill="#F8766D" fill-opacity="0.75"/><circle cx="542.9" cy="157.73" r="1.6" fill="#F8766D" fill-opacity="0.75"/><circle cx="574.2" cy="157.73" r="1.6" fill="#F8766D" fill-opacity="0.75"/><circle cx="520.0" cy="169.00" r="1.6" fill="#F8766D" fill-opacity="0.75"/><circle cx="535.3" cy="169.00" r="1.6" fill="#F8766D" fill-opacity="0.75"/><circle cx="541.9" cy="169.00" r="1.6" fill="#F8766D" fill-opacity="0.75"/><circle cx="552.6" cy="169.00" r="1.6" fill="#F8766D" fill-opacity="0.75"/><circle cx="558.5" cy="169.00" r="1.6" fill="#F8766D" fill-opacity="0.75"/><circle cx="537.7" cy="180.27" r="1.6" fill="#F8766D" fill-opacity="0.75"/><circle cx="544.7" cy="180.27" r="1.6" fill="#F8766D" fill-opacity="0.75"/><circle cx="547.1" cy="180.27" r="1.6" fill="#F8766D" fill-opacity="0.75"/><circle cx="550.2" cy="180.27" r="1.6" fill="#F8766D" fill-opacity="0.75"/><circle cx="558.0" cy="180.27" r="1.6" fill="#F8766D" fill-opacity="0.75"/><circle cx="503.0" cy="191.55" r="1.6" fill="#F8766D" fill-opacity="0.75"/><circle cx="505.0" cy="191.55" r="1.6" fill="#F8766D" fill-opacity="0.75"/><circle cx="531.9" cy="191.55" r="1.6" fill="#F8766D" fill-opacity="0.75"/><circle cx="522.0" cy="202.83" r="1.6" fill="#F8766D" fill-opacity="0.75"/><circle cx="528.3" cy="202.83" r="1.6" fill="#F8766D" fill-opacity="0.75"/><circle cx="533.5" cy="202.83" r="1.6" fill="#F8766D" fill-opacity="0.75"/><circle cx="501.9" cy="214.10" r="1.6" fill="#F8766D" fill-opacity="0.75"/><circle cx="509.7" cy="214.10" r="1.6" fill="#F8766D" fill-opacity="0.75"/><circle cx="511.8" cy="214.10" r="1.6" fill="#F8766D" fill-opacity="0.75"/><circle cx="515.5" cy="214.10" r="1.6" fill="#F8766D" fill-opacity="0.75"/><circle cx="524.1" cy="225.38" r="1.6" fill="#F8766D" fill-opacity="0.75"/><circle cx="517.8" cy="236.65" r="1.6" fill="#F8766D" fill-opacity="0.75"/><circle cx="535.3" cy="236.65" r="1.6" fill="#F8766D" fill-opacity="0.75"/><circle cx="562.3" cy="236.65" r="1.6" fill="#F8766D" fill-opacity="0.75"/><circle cx="524.7" cy="247.93" r="1.6" fill="#F8766D" fill-opacity="0.75"/><circle cx="544.4" cy="247.93" r="1.6" fill="#F8766D" fill-opacity="0.75"/><circle cx="541.3" cy="259.20" r="1.6" fill="#F8766D" fill-opacity="0.75"/><circle cx="518.6" cy="270.48" r="1.6" fill="#F8766D" fill-opacity="0.75"/><path d="M504.30,57.25L508.30,57.25L506.30,54.30Z" fill="#00BFC4" fill-opacity="0.8"/><path d="M481.60,79.80L485.60,79.80L483.60,76.85Z" fill="#00BFC4" fill-opacity="0.8"/><path d="M487.10,79.80L491.10,79.80L489.10,76.85Z" fill="#00BFC4" fill-opacity="0.8"/><path d="M513.50,79.80L517.50,79.80L515.50,76.85Z" fill="#00BFC4" fill-opacity="0.8"/><path d="M517.70,79.80L521.70,79.80L519.70,76.85Z" fill="#00BFC4" fill-opacity="0.8"/><path d="M526.80,79.80L530.80,79.80L528.80,76.85Z" fill="#00BFC4" fill-opacity="0.8"/><path d="M535.20,79.80L539.20,79.80L537.20,76.85Z" fill="#00BFC4" fill-opacity="0.8"/><path d="M458.70,91.07L462.70,91.07L460.70,88.12Z" fill="#00BFC4" fill-opacity="0.8"/><path d="M486.30,91.07L490.30,91.07L488.30,88.12Z" fill="#00BFC4" fill-opacity="0.8"/><path d="M509.30,91.07L513.30,91.07L511.30,88.12Z" fill="#00BFC4" fill-opacity="0.8"/><path d="M523.60,91.07L527.60,91.07L525.60,88.12Z" fill="#00BFC4" fill-opacity="0.8"/><path d="M528.70,91.07L532.70,91.07L530.70,88.12Z" fill="#00BFC4" fill-opacity="0.8"/><path d="M496.80,102.35L500.80,102.35L498.80,99.40Z" fill="#00BFC4" fill-opacity="0.8"/><path d="M498.80,102.35L502.80,102.35L500.80,99.40Z" fill="#00BFC4" fill-opacity="0.8"/><path d="M500.70,102.35L504.70,102.35L502.70,99.40Z" fill="#00BFC4" fill-opacity="0.8"/><path d="M508.50,102.35L512.50,102.35L510.50,99.40Z" fill="#00BFC4" fill-opacity="0.8"/><path d="M548.20,113.63L552.20,113.63L550.20,110.68Z" fill="#00BFC4" fill-opacity="0.8"/><path d="M469.10,124.90L473.10,124.90L471.10,121.95Z" fill="#00BFC4" fill-opacity="0.8"/><path d="M498.30,124.90L502.30,124.90L500.30,121.95Z" fill="#00BFC4" fill-opacity="0.8"/><path d="M510.10,124.90L514.10,124.90L512.10,121.95Z" fill="#00BFC4" fill-opacity="0.8"/><path d="M515.30,124.90L519.30,124.90L517.30,121.95Z" fill="#00BFC4" fill-opacity="0.8"/><path d="M527.90,124.90L531.90,124.90L529.90,121.95Z" fill="#00BFC4" fill-opacity="0.8"/><path d="M534.60,124.90L538.60,124.90L536.60,121.95Z" fill="#00BFC4" fill-opacity="0.8"/><path d="M560.40,124.90L564.40,124.90L562.40,121.95Z" fill="#00BFC4" fill-opacity="0.8"/><path d="M486.90,136.17L490.90,136.17L488.90,133.22Z" fill="#00BFC4" fill-opacity="0.8"/><path d="M500.70,136.17L504.70,136.17L502.70,133.22Z" fill="#00BFC4" fill-opacity="0.8"/><path d="M502.30,136.17L506.30,136.17L504.30,133.22Z" fill="#00BFC4" fill-opacity="0.8"/><path d="M524.30,136.17L528.30,136.17L526.30,133.22Z" fill="#00BFC4" fill-opacity="0.8"/><path d="M528.30,136.17L532.30,136.17L530.30,133.22Z" fill="#00BFC4" fill-opacity="0.8"/><path d="M554.00,136.17L558.00,136.17L556.00,133.22Z" fill="#00BFC4" fill-opacity="0.8"/><path d="M486.90,147.45L490.90,147.45L488.90,144.50Z" fill="#00BFC4" fill-opacity="0.8"/><path d="M503.50,147.45L507.50,147.45L505.50,144.50Z" fill="#00BFC4" fill-opacity="0.8"/><path d="M509.30,147.45L513.30,147.45L511.30,144.50Z" fill="#00BFC4" fill-opacity="0.8"/><path d="M513.80,147.45L517.80,147.45L515.80,144.50Z" fill="#00BFC4" fill-opacity="0.8"/><path d="M527.10,147.45L531.10,147.45L529.10,144.50Z" fill="#00BFC4" fill-opacity="0.8"/><path d="M533.30,147.45L537.30,147.45L535.30,144.50Z" fill="#00BFC4" fill-opacity="0.8"/><path d="M471.40,158.73L475.40,158.73L473.40,155.78Z" fill="#00BFC4" fill-opacity="0.8"/><path d="M494.10,158.73L498.10,158.73L496.10,155.78Z" fill="#00BFC4" fill-opacity="0.8"/><path d="M496.00,158.73L500.00,158.73L498.00,155.78Z" fill="#00BFC4" fill-opacity="0.8"/><path d="M499.10,158.73L503.10,158.73L501.10,155.78Z" fill="#00BFC4" fill-opacity="0.8"/><path d="M509.30,158.73L513.30,158.73L511.30,155.78Z" fill="#00BFC4" fill-opacity="0.8"/><path d="M524.30,158.73L528.30,158.73L526.30,155.78Z" fill="#00BFC4" fill-opacity="0.8"/><path d="M536.50,158.73L540.50,158.73L538.50,155.78Z" fill="#00BFC4" fill-opacity="0.8"/><path d="M538.80,158.73L542.80,158.73L540.80,155.78Z" fill="#00BFC4" fill-opacity="0.8"/><path d="M471.70,170.00L475.70,170.00L473.70,167.05Z" fill="#00BFC4" fill-opacity="0.8"/><path d="M472.80,170.00L476.80,170.00L474.80,167.05Z" fill="#00BFC4" fill-opacity="0.8"/><path d="M506.20,170.00L510.20,170.00L508.20,167.05Z" fill="#00BFC4" fill-opacity="0.8"/><path d="M528.70,170.00L532.70,170.00L530.70,167.05Z" fill="#00BFC4" fill-opacity="0.8"/><path d="M530.50,170.00L534.50,170.00L532.50,167.05Z" fill="#00BFC4" fill-opacity="0.8"/><path d="M542.70,170.00L546.70,170.00L544.70,167.05Z" fill="#00BFC4" fill-opacity="0.8"/><path d="M479.60,181.27L483.60,181.27L481.60,178.32Z" fill="#00BFC4" fill-opacity="0.8"/><path d="M484.30,181.27L488.30,181.27L486.30,178.32Z" fill="#00BFC4" fill-opacity="0.8"/><path d="M503.80,181.27L507.80,181.27L505.80,178.32Z" fill="#00BFC4" fill-opacity="0.8"/><path d="M517.70,181.27L521.70,181.27L519.70,178.32Z" fill="#00BFC4" fill-opacity="0.8"/><path d="M538.40,181.27L542.40,181.27L540.40,178.32Z" fill="#00BFC4" fill-opacity="0.8"/><path d="M482.20,192.55L486.20,192.55L484.20,189.60Z" fill="#00BFC4" fill-opacity="0.8"/><path d="M485.00,192.55L489.00,192.55L487.00,189.60Z" fill="#00BFC4" fill-opacity="0.8"/><path d="M487.90,192.55L491.90,192.55L489.90,189.60Z" fill="#00BFC4" fill-opacity="0.8"/><path d="M496.00,192.55L500.00,192.55L498.00,189.60Z" fill="#00BFC4" fill-opacity="0.8"/><path d="M497.30,192.55L501.30,192.55L499.30,189.60Z" fill="#00BFC4" fill-opacity="0.8"/><path d="M505.70,192.55L509.70,192.55L507.70,189.60Z" fill="#00BFC4" fill-opacity="0.8"/><path d="M521.10,192.55L525.10,192.55L523.10,189.60Z" fill="#00BFC4" fill-opacity="0.8"/><path d="M531.80,192.55L535.80,192.55L533.80,189.60Z" fill="#00BFC4" fill-opacity="0.8"/><path d="M533.70,192.55L537.70,192.55L535.70,189.60Z" fill="#00BFC4" fill-opacity="0.8"/><path d="M538.00,192.55L542.00,192.55L540.00,189.60Z" fill="#00BFC4" fill-opacity="0.8"/><path d="M466.00,203.83L470.00,203.83L468.00,200.88Z" fill="#00BFC4" fill-opacity="0.8"/><path d="M478.80,203.83L482.80,203.83L480.80,200.88Z" fill="#00BFC4" fill-opacity="0.8"/><path d="M490.50,203.83L494.50,203.83L492.50,200.88Z" fill="#00BFC4" fill-opacity="0.8"/><path d="M491.60,203.83L495.60,203.83L493.60,200.88Z" fill="#00BFC4" fill-opacity="0.8"/><path d="M495.20,203.83L499.20,203.83L497.20,200.88Z" fill="#00BFC4" fill-opacity="0.8"/><path d="M506.20,203.83L510.20,203.83L508.20,200.88Z" fill="#00BFC4" fill-opacity="0.8"/><path d="M508.50,203.83L512.50,203.83L510.50,200.88Z" fill="#00BFC4" fill-opacity="0.8"/><path d="M516.90,203.83L520.90,203.83L518.90,200.88Z" fill="#00BFC4" fill-opacity="0.8"/><path d="M526.30,203.83L530.30,203.83L528.30,200.88Z" fill="#00BFC4" fill-opacity="0.8"/><path d="M537.30,203.83L541.30,203.83L539.30,200.88Z" fill="#00BFC4" fill-opacity="0.8"/><path d="M482.70,215.10L486.70,215.10L484.70,212.15Z" fill="#00BFC4" fill-opacity="0.8"/><path d="M502.30,215.10L506.30,215.10L504.30,212.15Z" fill="#00BFC4" fill-opacity="0.8"/><path d="M504.10,215.10L508.10,215.10L506.10,212.15Z" fill="#00BFC4" fill-opacity="0.8"/><path d="M506.20,215.10L510.20,215.10L508.20,212.15Z" fill="#00BFC4" fill-opacity="0.8"/><path d="M511.60,215.10L515.60,215.10L513.60,212.15Z" fill="#00BFC4" fill-opacity="0.8"/><path d="M515.80,215.10L519.80,215.10L517.80,212.15Z" fill="#00BFC4" fill-opacity="0.8"/><path d="M517.70,215.10L521.70,215.10L519.70,212.15Z" fill="#00BFC4" fill-opacity="0.8"/><path d="M520.00,215.10L524.00,215.10L522.00,212.15Z" fill="#00BFC4" fill-opacity="0.8"/><path d="M538.80,215.10L542.80,215.10L540.80,212.15Z" fill="#00BFC4" fill-opacity="0.8"/><path d="M486.30,226.38L490.30,226.38L488.30,223.43Z" fill="#00BFC4" fill-opacity="0.8"/><path d="M488.20,226.38L492.20,226.38L490.20,223.43Z" fill="#00BFC4" fill-opacity="0.8"/><path d="M490.50,226.38L494.50,226.38L492.50,223.43Z" fill="#00BFC4" fill-opacity="0.8"/><path d="M491.60,226.38L495.60,226.38L493.60,223.43Z" fill="#00BFC4" fill-opacity="0.8"/><path d="M501.50,226.38L505.50,226.38L503.50,223.43Z" fill="#00BFC4" fill-opacity="0.8"/><path d="M503.00,226.38L507.00,226.38L505.00,223.43Z" fill="#00BFC4" fill-opacity="0.8"/><path d="M516.40,226.38L520.40,226.38L518.40,223.43Z" fill="#00BFC4" fill-opacity="0.8"/><path d="M530.20,226.38L534.20,226.38L532.20,223.43Z" fill="#00BFC4" fill-opacity="0.8"/><path d="M471.00,237.65L475.00,237.65L473.00,234.70Z" fill="#00BFC4" fill-opacity="0.8"/><path d="M481.90,237.65L485.90,237.65L483.90,234.70Z" fill="#00BFC4" fill-opacity="0.8"/><path d="M483.20,237.65L487.20,237.65L485.20,234.70Z" fill="#00BFC4" fill-opacity="0.8"/><path d="M485.00,237.65L489.00,237.65L487.00,234.70Z" fill="#00BFC4" fill-opacity="0.8"/><path d="M499.90,237.65L503.90,237.65L501.90,234.70Z" fill="#00BFC4" fill-opacity="0.8"/><path d="M501.90,237.65L505.90,237.65L503.90,234.70Z" fill="#00BFC4" fill-opacity="0.8"/><path d="M503.80,237.65L507.80,237.65L505.80,234.70Z" fill="#00BFC4" fill-opacity="0.8"/><path d="M507.70,237.65L511.70,237.65L509.70,234.70Z" fill="#00BFC4" fill-opacity="0.8"/><path d="M509.30,237.65L513.30,237.65L511.30,234.70Z" fill="#00BFC4" fill-opacity="0.8"/><path d="M512.40,237.65L516.40,237.65L514.40,234.70Z" fill="#00BFC4" fill-opacity="0.8"/><path d="M519.60,237.65L523.60,237.65L521.60,234.70Z" fill="#00BFC4" fill-opacity="0.8"/><path d="M525.20,237.65L529.20,237.65L527.20,234.70Z" fill="#00BFC4" fill-opacity="0.8"/><path d="M530.50,237.65L534.50,237.65L532.50,234.70Z" fill="#00BFC4" fill-opacity="0.8"/><path d="M532.10,237.65L536.10,237.65L534.10,234.70Z" fill="#00BFC4" fill-opacity="0.8"/><path d="M535.70,237.65L539.70,237.65L537.70,234.70Z" fill="#00BFC4" fill-opacity="0.8"/><path d="M476.40,248.93L480.40,248.93L478.40,245.98Z" fill="#00BFC4" fill-opacity="0.8"/><path d="M481.10,248.93L485.10,248.93L483.10,245.98Z" fill="#00BFC4" fill-opacity="0.8"/><path d="M482.70,248.93L486.70,248.93L484.70,245.98Z" fill="#00BFC4" fill-opacity="0.8"/><path d="M488.20,248.93L492.20,248.93L490.20,245.98Z" fill="#00BFC4" fill-opacity="0.8"/><path d="M490.50,248.93L494.50,248.93L492.50,245.98Z" fill="#00BFC4" fill-opacity="0.8"/><path d="M498.30,248.93L502.30,248.93L500.30,245.98Z" fill="#00BFC4" fill-opacity="0.8"/><path d="M503.80,248.93L507.80,248.93L505.80,245.98Z" fill="#00BFC4" fill-opacity="0.8"/><path d="M505.40,248.93L509.40,248.93L507.40,245.98Z" fill="#00BFC4" fill-opacity="0.8"/><path d="M508.50,248.93L512.50,248.93L510.50,245.98Z" fill="#00BFC4" fill-opacity="0.8"/><path d="M510.90,248.93L514.90,248.93L512.90,245.98Z" fill="#00BFC4" fill-opacity="0.8"/><path d="M513.20,248.93L517.20,248.93L515.20,245.98Z" fill="#00BFC4" fill-opacity="0.8"/><path d="M517.70,248.93L521.70,248.93L519.70,245.98Z" fill="#00BFC4" fill-opacity="0.8"/><path d="M541.20,248.93L545.20,248.93L543.20,245.98Z" fill="#00BFC4" fill-opacity="0.8"/><path d="M543.50,248.93L547.50,248.93L545.50,245.98Z" fill="#00BFC4" fill-opacity="0.8"/><path d="M479.60,260.20L483.60,260.20L481.60,257.25Z" fill="#00BFC4" fill-opacity="0.8"/><path d="M487.40,260.20L491.40,260.20L489.40,257.25Z" fill="#00BFC4" fill-opacity="0.8"/><path d="M495.20,260.20L499.20,260.20L497.20,257.25Z" fill="#00BFC4" fill-opacity="0.8"/><path d="M499.10,260.20L503.10,260.20L501.10,257.25Z" fill="#00BFC4" fill-opacity="0.8"/><path d="M507.00,260.20L511.00,260.20L509.00,257.25Z" fill="#00BFC4" fill-opacity="0.8"/><path d="M509.30,260.20L513.30,260.20L511.30,257.25Z" fill="#00BFC4" fill-opacity="0.8"/><path d="M512.40,260.20L516.40,260.20L514.40,257.25Z" fill="#00BFC4" fill-opacity="0.8"/><path d="M514.60,260.20L518.60,260.20L516.60,257.25Z" fill="#00BFC4" fill-opacity="0.8"/><path d="M516.40,260.20L520.40,260.20L518.40,257.25Z" fill="#00BFC4" fill-opacity="0.8"/><path d="M518.50,260.20L522.50,260.20L520.50,257.25Z" fill="#00BFC4" fill-opacity="0.8"/><path d="M520.80,260.20L524.80,260.20L522.80,257.25Z" fill="#00BFC4" fill-opacity="0.8"/><path d="M526.30,260.20L530.30,260.20L528.30,257.25Z" fill="#00BFC4" fill-opacity="0.8"/><path d="M527.90,260.20L531.90,260.20L529.90,257.25Z" fill="#00BFC4" fill-opacity="0.8"/><path d="M549.80,260.20L553.80,260.20L551.80,257.25Z" fill="#00BFC4" fill-opacity="0.8"/><path d="M457.80,271.48L461.80,271.48L459.80,268.53Z" fill="#00BFC4" fill-opacity="0.8"/><path d="M460.80,271.48L464.80,271.48L462.80,268.53Z" fill="#00BFC4" fill-opacity="0.8"/><path d="M490.80,271.48L494.80,271.48L492.80,268.53Z" fill="#00BFC4" fill-opacity="0.8"/><path d="M493.50,271.48L497.50,271.48L495.50,268.53Z" fill="#00BFC4" fill-opacity="0.8"/><path d="M496.50,271.48L500.50,271.48L498.50,268.53Z" fill="#00BFC4" fill-opacity="0.8"/><path d="M498.80,271.48L502.80,271.48L500.80,268.53Z" fill="#00BFC4" fill-opacity="0.8"/><path d="M507.70,271.48L511.70,271.48L509.70,268.53Z" fill="#00BFC4" fill-opacity="0.8"/><path d="M510.40,271.48L514.40,271.48L512.40,268.53Z" fill="#00BFC4" fill-opacity="0.8"/><path d="M512.50,271.48L516.50,271.48L514.50,268.53Z" fill="#00BFC4" fill-opacity="0.8"/><path d="M518.40,271.48L522.40,271.48L520.40,268.53Z" fill="#00BFC4" fill-opacity="0.8"/><path d="M521.10,271.48L525.10,271.48L523.10,268.53Z" fill="#00BFC4" fill-opacity="0.8"/><path d="M548.70,271.48L552.70,271.48L550.70,268.53Z" fill="#00BFC4" fill-opacity="0.8"/><path d="M462.60,95.13 L465.93,96.04 L469.25,96.95 L472.58,97.84 L475.90,98.73 L479.23,99.60 L482.55,100.45 L485.88,101.29 L489.20,102.10 L492.53,102.89 L495.85,103.66 L499.18,104.38 L502.50,105.06 L505.83,105.69 L509.15,106.26 L512.48,106.76 L515.80,107.16 L519.12,107.46 L522.45,107.64 L525.77,107.69 L529.10,107.60 L532.43,107.36 L535.75,106.99 L539.08,106.48 L542.40,105.85 L545.73,105.12 L549.05,104.30 L552.38,103.41 L555.70,102.45 L559.02,101.45 L562.35,100.40 L565.68,99.32 L569.00,98.21 L572.33,97.07 L575.65,95.91 L578.98,94.73 L582.30,93.54 L585.62,92.34 L588.95,91.12 L592.28,89.90 L595.60,88.67 L595.60,138.73 L592.28,137.82 L588.95,136.92 L585.62,136.02 L582.30,135.14 L578.98,134.27 L575.65,133.41 L572.33,132.57 L569.00,131.75 L565.68,130.96 L562.35,130.20 L559.02,129.47 L555.70,128.79 L552.38,128.15 L549.05,127.58 L545.73,127.08 L542.40,126.67 L539.08,126.36 L535.75,126.17 L532.43,126.12 L529.10,126.20 L525.77,126.43 L522.45,126.80 L519.12,127.30 L515.80,127.92 L512.48,128.64 L509.15,129.46 L505.83,130.35 L502.50,131.30 L499.18,132.30 L495.85,133.34 L492.53,134.43 L489.20,135.54 L485.88,136.67 L482.55,137.83 L479.23,139.00 L475.90,140.19 L472.58,141.40 L469.25,142.61 L465.93,143.84 L462.60,145.07Z" fill="#999" fill-opacity="0.4"/><path d="M460.30,187.22 L462.84,187.57 L465.37,187.92 L467.91,188.26 L470.44,188.58 L472.98,188.90 L475.51,189.20 L478.05,189.49 L480.58,189.76 L483.12,190.01 L485.65,190.23 L488.19,190.42 L490.72,190.57 L493.25,190.67 L495.79,190.70 L498.33,190.66 L500.86,190.52 L503.40,190.25 L505.93,189.84 L508.47,189.26 L511.00,188.50 L513.54,187.54 L516.07,186.40 L518.61,185.09 L521.14,183.64 L523.68,182.06 L526.21,180.38 L528.75,178.63 L531.28,176.81 L533.82,174.94 L536.35,173.03 L538.88,171.09 L541.42,169.12 L543.96,167.13 L546.49,165.12 L549.03,163.10 L551.56,161.06 L554.10,159.02 L556.63,156.96 L559.17,154.89 L561.70,152.82 L561.70,206.78 L559.17,206.43 L556.63,206.08 L554.10,205.74 L551.56,205.42 L549.03,205.10 L546.49,204.80 L543.96,204.51 L541.42,204.24 L538.88,203.99 L536.35,203.77 L533.82,203.58 L531.28,203.43 L528.75,203.33 L526.21,203.30 L523.68,203.34 L521.14,203.48 L518.61,203.75 L516.07,204.16 L513.54,204.74 L511.00,205.50 L508.47,206.46 L505.93,207.60 L503.40,208.91 L500.86,210.36 L498.33,211.94 L495.79,213.62 L493.25,215.37 L490.72,217.19 L488.19,219.06 L485.65,220.97 L483.12,222.91 L480.58,224.88 L478.05,226.87 L475.51,228.88 L472.98,230.90 L470.44,232.94 L467.91,234.98 L465.37,237.04 L462.84,239.11 L460.30,241.18Z" fill="#999" fill-opacity="0.4"/><line x1="462.6" y1="120.1" x2="595.6" y2="113.7" stroke="#F8766D" stroke-width="1.7"/><line x1="460.3" y1="214.2" x2="561.7" y2="179.8" stroke="#00BFC4" stroke-width="1.7" stroke-dasharray="3.1 2.1"/><path d="M426.6,33.5 H604.3 V281.4 H426.6" fill="none" stroke="#333" stroke-width="1.2"/><line x1="426.6" y1="33.5" x2="426.6" y2="281" stroke="#333" stroke-width="1.2"/><rect x="426.6" y="10.5" width="177.70" height="23.0" fill="#d9d9d9"/><path d="M426.6,10.5 H604.3 V33.5 H426.6" fill="none" stroke="#333" stroke-width="1.2"/><line x1="426.6" y1="10.5" x2="426.6" y2="33.5" stroke="#333" stroke-width="1.2"/><text transform="translate(515.45,26.60) scale(1.055,1)" font-family="Liberation Sans, sans-serif" font-size="11.9" fill="#1a1a1a" text-anchor="middle">MOT</text><line x1="431.80" y1="281.4" x2="431.80" y2="284.7" stroke="#333" stroke-width="1.1"/><text transform="translate(431.80,297.60) scale(1.08,1)" font-family="Liberation Sans, sans-serif" font-size="12.2" fill="#333" text-anchor="middle">-2</text><line x1="471.37" y1="281.4" x2="471.37" y2="284.7" stroke="#333" stroke-width="1.1"/><text transform="translate(471.37,297.60) scale(1.08,1)" font-family="Liberation Sans, sans-serif" font-size="12.2" fill="#333" text-anchor="middle">-1</text><line x1="510.94" y1="281.4" x2="510.94" y2="284.7" stroke="#333" stroke-width="1.1"/><text transform="translate(510.94,297.60) scale(1.08,1)" font-family="Liberation Sans, sans-serif" font-size="12.2" fill="#333" text-anchor="middle">0</text><line x1="550.51" y1="281.4" x2="550.51" y2="284.7" stroke="#333" stroke-width="1.1"/><text transform="translate(550.51,297.60) scale(1.08,1)" font-family="Liberation Sans, sans-serif" font-size="12.2" fill="#333" text-anchor="middle">1</text><line x1="590.08" y1="281.4" x2="590.08" y2="284.7" stroke="#333" stroke-width="1.1"/><text transform="translate(590.08,297.60) scale(1.08,1)" font-family="Liberation Sans, sans-serif" font-size="12.2" fill="#333" text-anchor="middle">2</text><line x1="49.7" y1="281.40" x2="54.1" y2="281.40" stroke="#333" stroke-width="1.2"/><text transform="translate(47.00,287.20) scale(1.08,1)" font-family="Liberation Sans, sans-serif" font-size="12.2" fill="#333" text-anchor="end">0</text><line x1="49.7" y1="225.00" x2="54.1" y2="225.00" stroke="#333" stroke-width="1.2"/><text transform="translate(47.00,230.85) scale(1.08,1)" font-family="Liberation Sans, sans-serif" font-size="12.2" fill="#333" text-anchor="end">5</text><line x1="49.7" y1="168.60" x2="54.1" y2="168.60" stroke="#333" stroke-width="1.2"/><text transform="translate(47.00,174.50) scale(1.08,1)" font-family="Liberation Sans, sans-serif" font-size="12.2" fill="#333" text-anchor="end">10</text><line x1="49.7" y1="112.20" x2="54.1" y2="112.20" stroke="#333" stroke-width="1.2"/><text transform="translate(47.00,118.15) scale(1.08,1)" font-family="Liberation Sans, sans-serif" font-size="12.2" fill="#333" text-anchor="end">15</text><line x1="49.7" y1="55.80" x2="54.1" y2="55.80" stroke="#333" stroke-width="1.2"/><text transform="translate(47.00,61.80) scale(1.08,1)" font-family="Liberation Sans, sans-serif" font-size="12.2" fill="#333" text-anchor="end">20</text><text transform="translate(329.00,315.40) scale(1.123,1)" font-family="Liberation Sans, sans-serif" font-size="14.2" fill="#000" text-anchor="middle">SVM Decision Variable</text><text transform="translate(24.80,157.80) scale(1.05,1) rotate(-90)" font-family="Liberation Sans, sans-serif" font-size="14.7" fill="#000" text-anchor="middle">TLX Score</text><text transform="translate(512.60,315.70) scale(1.14,1)" font-family="Liberation Sans, sans-serif" font-size="11.9" fill="#000" text-anchor="start">Load Condition</text><rect x="513" y="323" width="12" height="22.8" fill="#d6d6d6"/><line x1="513.8" y1="328.3" x2="524.2" y2="328.3" stroke="#F8766D" stroke-width="1.7"/><line x1="513.8" y1="339.8" x2="524.2" y2="339.8" stroke="#00BFC4" stroke-width="1.7" stroke-dasharray="2.2 2.2"/><text transform="translate(532.20,333.00) scale(1.0,1)" font-family="Liberation Sans, sans-serif" font-size="10.6" fill="#000" text-anchor="start">high</text><text transform="translate(532.20,344.20) scale(1.0,1)" font-family="Liberation Sans, sans-serif" font-size="10.6" fill="#000" text-anchor="start">low</text></svg></body></html>
